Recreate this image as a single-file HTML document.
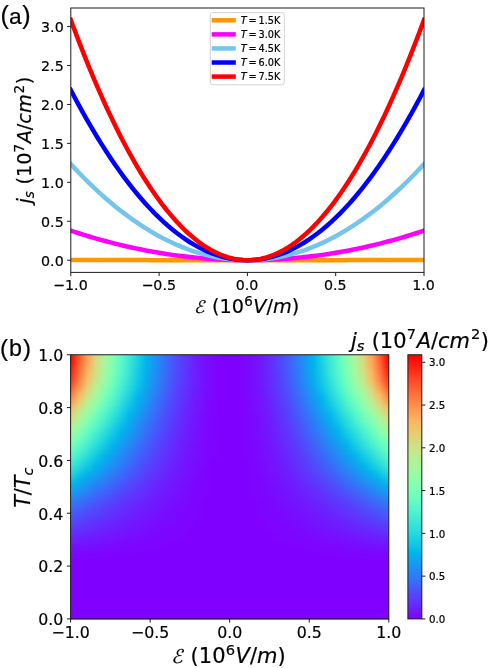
<!DOCTYPE html>
<html><head><meta charset="utf-8"><title>figure</title>
<style>
html,body{margin:0;padding:0;background:#fff;}
svg{display:block}
text{font-family:"DejaVu Sans","Liberation Sans",sans-serif;fill:#000;stroke:#000;stroke-width:0.2px}
.it{font-style:italic}
.pn{font-family:"Liberation Sans",sans-serif}
</style></head><body>
<svg width="491" height="668" viewBox="0 0 491 668">
<rect width="491" height="668" fill="#fff"/>

<defs>
<clipPath id="ca"><rect x="70.8" y="8" width="353.2" height="264.4"/></clipPath>
<linearGradient id="g0" gradientUnits="userSpaceOnUse" x1="229.7" x2="388.8" y1="0" y2="0" spreadMethod="reflect"><stop offset="0.000" stop-color="#8000ff"/><stop offset="0.053" stop-color="#8000ff"/><stop offset="0.105" stop-color="#7c06ff"/><stop offset="0.158" stop-color="#7610ff"/><stop offset="0.211" stop-color="#6e1cff"/><stop offset="0.263" stop-color="#622ffe"/><stop offset="0.316" stop-color="#5444fd"/><stop offset="0.368" stop-color="#425ffa"/><stop offset="0.421" stop-color="#3079f7"/><stop offset="0.474" stop-color="#1996f3"/><stop offset="0.526" stop-color="#00b5eb"/><stop offset="0.579" stop-color="#1dd1e2"/><stop offset="0.632" stop-color="#3dead5"/><stop offset="0.684" stop-color="#5efac6"/><stop offset="0.737" stop-color="#84ffb2"/><stop offset="0.789" stop-color="#aef498"/><stop offset="0.842" stop-color="#dcd67a"/><stop offset="0.895" stop-color="#ffa256"/><stop offset="0.947" stop-color="#ff592d"/><stop offset="1.000" stop-color="#ff0000"/></linearGradient>
<linearGradient id="g1" gradientUnits="userSpaceOnUse" x1="229.7" x2="388.8" y1="0" y2="0" spreadMethod="reflect"><stop offset="0.000" stop-color="#8000ff"/><stop offset="0.053" stop-color="#8000ff"/><stop offset="0.105" stop-color="#7c06ff"/><stop offset="0.158" stop-color="#7610ff"/><stop offset="0.211" stop-color="#6e1cff"/><stop offset="0.263" stop-color="#622ffe"/><stop offset="0.316" stop-color="#5444fd"/><stop offset="0.368" stop-color="#445cfb"/><stop offset="0.421" stop-color="#3079f7"/><stop offset="0.474" stop-color="#1996f3"/><stop offset="0.526" stop-color="#00b5eb"/><stop offset="0.579" stop-color="#1dd1e2"/><stop offset="0.632" stop-color="#3dead5"/><stop offset="0.684" stop-color="#5efac6"/><stop offset="0.737" stop-color="#84ffb2"/><stop offset="0.789" stop-color="#aef498"/><stop offset="0.842" stop-color="#dcd67a"/><stop offset="0.895" stop-color="#ffa256"/><stop offset="0.947" stop-color="#ff592d"/><stop offset="1.000" stop-color="#ff0000"/></linearGradient>
<linearGradient id="g2" gradientUnits="userSpaceOnUse" x1="229.7" x2="388.8" y1="0" y2="0" spreadMethod="reflect"><stop offset="0.000" stop-color="#8000ff"/><stop offset="0.053" stop-color="#8000ff"/><stop offset="0.105" stop-color="#7c06ff"/><stop offset="0.158" stop-color="#7610ff"/><stop offset="0.211" stop-color="#6e1cff"/><stop offset="0.263" stop-color="#622ffe"/><stop offset="0.316" stop-color="#5444fd"/><stop offset="0.368" stop-color="#445cfb"/><stop offset="0.421" stop-color="#3079f7"/><stop offset="0.474" stop-color="#1996f3"/><stop offset="0.526" stop-color="#00b5eb"/><stop offset="0.579" stop-color="#1dd1e2"/><stop offset="0.632" stop-color="#3dead5"/><stop offset="0.684" stop-color="#5efac6"/><stop offset="0.737" stop-color="#84ffb2"/><stop offset="0.789" stop-color="#aef498"/><stop offset="0.842" stop-color="#dbd87b"/><stop offset="0.895" stop-color="#ffa558"/><stop offset="0.947" stop-color="#ff5c2f"/><stop offset="1.000" stop-color="#ff0302"/></linearGradient>
<linearGradient id="g3" gradientUnits="userSpaceOnUse" x1="229.7" x2="388.8" y1="0" y2="0" spreadMethod="reflect"><stop offset="0.000" stop-color="#8000ff"/><stop offset="0.053" stop-color="#8000ff"/><stop offset="0.105" stop-color="#7c06ff"/><stop offset="0.158" stop-color="#7610ff"/><stop offset="0.211" stop-color="#6e1cff"/><stop offset="0.263" stop-color="#622ffe"/><stop offset="0.316" stop-color="#5444fd"/><stop offset="0.368" stop-color="#445cfb"/><stop offset="0.421" stop-color="#3079f7"/><stop offset="0.474" stop-color="#1996f3"/><stop offset="0.526" stop-color="#00b5eb"/><stop offset="0.579" stop-color="#1dd1e2"/><stop offset="0.632" stop-color="#3ae8d6"/><stop offset="0.684" stop-color="#5df9c7"/><stop offset="0.737" stop-color="#82ffb3"/><stop offset="0.789" stop-color="#acf59a"/><stop offset="0.842" stop-color="#dbd87b"/><stop offset="0.895" stop-color="#ffa558"/><stop offset="0.947" stop-color="#ff5f30"/><stop offset="1.000" stop-color="#ff0603"/></linearGradient>
<linearGradient id="g4" gradientUnits="userSpaceOnUse" x1="229.7" x2="388.8" y1="0" y2="0" spreadMethod="reflect"><stop offset="0.000" stop-color="#8000ff"/><stop offset="0.053" stop-color="#8000ff"/><stop offset="0.105" stop-color="#7c06ff"/><stop offset="0.158" stop-color="#7610ff"/><stop offset="0.211" stop-color="#6e1cff"/><stop offset="0.263" stop-color="#622ffe"/><stop offset="0.316" stop-color="#5444fd"/><stop offset="0.368" stop-color="#445cfb"/><stop offset="0.421" stop-color="#3079f7"/><stop offset="0.474" stop-color="#1996f3"/><stop offset="0.526" stop-color="#01b3ec"/><stop offset="0.579" stop-color="#1acfe3"/><stop offset="0.632" stop-color="#3ae8d6"/><stop offset="0.684" stop-color="#5df9c7"/><stop offset="0.737" stop-color="#82ffb3"/><stop offset="0.789" stop-color="#acf59a"/><stop offset="0.842" stop-color="#d9da7d"/><stop offset="0.895" stop-color="#ffa759"/><stop offset="0.947" stop-color="#ff6232"/><stop offset="1.000" stop-color="#ff0905"/></linearGradient>
<linearGradient id="g5" gradientUnits="userSpaceOnUse" x1="229.7" x2="388.8" y1="0" y2="0" spreadMethod="reflect"><stop offset="0.000" stop-color="#8000ff"/><stop offset="0.053" stop-color="#8000ff"/><stop offset="0.105" stop-color="#7c06ff"/><stop offset="0.158" stop-color="#7610ff"/><stop offset="0.211" stop-color="#6e1cff"/><stop offset="0.263" stop-color="#622ffe"/><stop offset="0.316" stop-color="#5444fd"/><stop offset="0.368" stop-color="#445cfb"/><stop offset="0.421" stop-color="#3079f7"/><stop offset="0.474" stop-color="#1996f3"/><stop offset="0.526" stop-color="#01b3ec"/><stop offset="0.579" stop-color="#1acfe3"/><stop offset="0.632" stop-color="#38e7d7"/><stop offset="0.684" stop-color="#5af8c8"/><stop offset="0.737" stop-color="#80ffb4"/><stop offset="0.789" stop-color="#abf69b"/><stop offset="0.842" stop-color="#d6db7e"/><stop offset="0.895" stop-color="#ffa95b"/><stop offset="0.947" stop-color="#ff6533"/><stop offset="1.000" stop-color="#ff0d06"/></linearGradient>
<linearGradient id="g6" gradientUnits="userSpaceOnUse" x1="229.7" x2="388.8" y1="0" y2="0" spreadMethod="reflect"><stop offset="0.000" stop-color="#8000ff"/><stop offset="0.053" stop-color="#8000ff"/><stop offset="0.105" stop-color="#7c06ff"/><stop offset="0.158" stop-color="#7610ff"/><stop offset="0.211" stop-color="#6e1cff"/><stop offset="0.263" stop-color="#622ffe"/><stop offset="0.316" stop-color="#5444fd"/><stop offset="0.368" stop-color="#445cfb"/><stop offset="0.421" stop-color="#3176f8"/><stop offset="0.474" stop-color="#1c93f3"/><stop offset="0.526" stop-color="#01b3ec"/><stop offset="0.579" stop-color="#18cde4"/><stop offset="0.632" stop-color="#38e7d7"/><stop offset="0.684" stop-color="#5af8c8"/><stop offset="0.737" stop-color="#80ffb4"/><stop offset="0.789" stop-color="#a8f79c"/><stop offset="0.842" stop-color="#d4dd80"/><stop offset="0.895" stop-color="#ffac5c"/><stop offset="0.947" stop-color="#ff6835"/><stop offset="1.000" stop-color="#ff1309"/></linearGradient>
<linearGradient id="g7" gradientUnits="userSpaceOnUse" x1="229.7" x2="388.8" y1="0" y2="0" spreadMethod="reflect"><stop offset="0.000" stop-color="#8000ff"/><stop offset="0.053" stop-color="#8000ff"/><stop offset="0.105" stop-color="#7c06ff"/><stop offset="0.158" stop-color="#7610ff"/><stop offset="0.211" stop-color="#6e1cff"/><stop offset="0.263" stop-color="#622ffe"/><stop offset="0.316" stop-color="#5444fd"/><stop offset="0.368" stop-color="#445cfb"/><stop offset="0.421" stop-color="#3176f8"/><stop offset="0.474" stop-color="#1c93f3"/><stop offset="0.526" stop-color="#04b0ed"/><stop offset="0.579" stop-color="#18cde4"/><stop offset="0.632" stop-color="#37e6d8"/><stop offset="0.684" stop-color="#58f8c9"/><stop offset="0.737" stop-color="#7effb5"/><stop offset="0.789" stop-color="#a6f89d"/><stop offset="0.842" stop-color="#d2de81"/><stop offset="0.895" stop-color="#ffae5e"/><stop offset="0.947" stop-color="#ff6b37"/><stop offset="1.000" stop-color="#ff160b"/></linearGradient>
<linearGradient id="g8" gradientUnits="userSpaceOnUse" x1="229.7" x2="388.8" y1="0" y2="0" spreadMethod="reflect"><stop offset="0.000" stop-color="#8000ff"/><stop offset="0.053" stop-color="#8000ff"/><stop offset="0.105" stop-color="#7c06ff"/><stop offset="0.158" stop-color="#7610ff"/><stop offset="0.211" stop-color="#6e1cff"/><stop offset="0.263" stop-color="#622ffe"/><stop offset="0.316" stop-color="#5641fd"/><stop offset="0.368" stop-color="#4659fb"/><stop offset="0.421" stop-color="#3176f8"/><stop offset="0.474" stop-color="#1c93f3"/><stop offset="0.526" stop-color="#04b0ed"/><stop offset="0.579" stop-color="#18cde4"/><stop offset="0.632" stop-color="#37e6d8"/><stop offset="0.684" stop-color="#58f8c9"/><stop offset="0.737" stop-color="#7dffb6"/><stop offset="0.789" stop-color="#a4f89f"/><stop offset="0.842" stop-color="#d0e082"/><stop offset="0.895" stop-color="#ffb360"/><stop offset="0.947" stop-color="#ff703a"/><stop offset="1.000" stop-color="#ff1c0e"/></linearGradient>
<linearGradient id="g9" gradientUnits="userSpaceOnUse" x1="229.7" x2="388.8" y1="0" y2="0" spreadMethod="reflect"><stop offset="0.000" stop-color="#8000ff"/><stop offset="0.053" stop-color="#8000ff"/><stop offset="0.105" stop-color="#7c06ff"/><stop offset="0.158" stop-color="#7610ff"/><stop offset="0.211" stop-color="#6e1cff"/><stop offset="0.263" stop-color="#622ffe"/><stop offset="0.316" stop-color="#5641fd"/><stop offset="0.368" stop-color="#4659fb"/><stop offset="0.421" stop-color="#3176f8"/><stop offset="0.474" stop-color="#1e91f3"/><stop offset="0.526" stop-color="#06aeed"/><stop offset="0.579" stop-color="#17cbe4"/><stop offset="0.632" stop-color="#34e4d9"/><stop offset="0.684" stop-color="#56f7ca"/><stop offset="0.737" stop-color="#7affb7"/><stop offset="0.789" stop-color="#a2f9a0"/><stop offset="0.842" stop-color="#cee184"/><stop offset="0.895" stop-color="#feb562"/><stop offset="0.947" stop-color="#ff733b"/><stop offset="1.000" stop-color="#ff1f10"/></linearGradient>
<linearGradient id="g10" gradientUnits="userSpaceOnUse" x1="229.7" x2="388.8" y1="0" y2="0" spreadMethod="reflect"><stop offset="0.000" stop-color="#8000ff"/><stop offset="0.053" stop-color="#8000ff"/><stop offset="0.105" stop-color="#7c06ff"/><stop offset="0.158" stop-color="#7610ff"/><stop offset="0.211" stop-color="#6e1cff"/><stop offset="0.263" stop-color="#642cfe"/><stop offset="0.316" stop-color="#5641fd"/><stop offset="0.368" stop-color="#4659fb"/><stop offset="0.421" stop-color="#3473f8"/><stop offset="0.474" stop-color="#1e91f3"/><stop offset="0.526" stop-color="#06aeed"/><stop offset="0.579" stop-color="#17cbe4"/><stop offset="0.632" stop-color="#34e4d9"/><stop offset="0.684" stop-color="#54f6cb"/><stop offset="0.737" stop-color="#78ffb8"/><stop offset="0.789" stop-color="#a0faa1"/><stop offset="0.842" stop-color="#cce385"/><stop offset="0.895" stop-color="#fcb763"/><stop offset="0.947" stop-color="#ff793e"/><stop offset="1.000" stop-color="#ff2613"/></linearGradient>
<linearGradient id="g11" gradientUnits="userSpaceOnUse" x1="229.7" x2="388.8" y1="0" y2="0" spreadMethod="reflect"><stop offset="0.000" stop-color="#8000ff"/><stop offset="0.053" stop-color="#8000ff"/><stop offset="0.105" stop-color="#7c06ff"/><stop offset="0.158" stop-color="#7610ff"/><stop offset="0.211" stop-color="#6e1cff"/><stop offset="0.263" stop-color="#642cfe"/><stop offset="0.316" stop-color="#5641fd"/><stop offset="0.368" stop-color="#4659fb"/><stop offset="0.421" stop-color="#3473f8"/><stop offset="0.474" stop-color="#1e91f3"/><stop offset="0.526" stop-color="#06aeed"/><stop offset="0.579" stop-color="#14cae5"/><stop offset="0.632" stop-color="#32e3da"/><stop offset="0.684" stop-color="#52f5cb"/><stop offset="0.737" stop-color="#76ffb9"/><stop offset="0.789" stop-color="#9efaa2"/><stop offset="0.842" stop-color="#cbe486"/><stop offset="0.895" stop-color="#f9bb66"/><stop offset="0.947" stop-color="#ff7b40"/><stop offset="1.000" stop-color="#ff2c16"/></linearGradient>
<linearGradient id="g12" gradientUnits="userSpaceOnUse" x1="229.7" x2="388.8" y1="0" y2="0" spreadMethod="reflect"><stop offset="0.000" stop-color="#8000ff"/><stop offset="0.053" stop-color="#8000ff"/><stop offset="0.105" stop-color="#7c06ff"/><stop offset="0.158" stop-color="#7610ff"/><stop offset="0.211" stop-color="#6e1cff"/><stop offset="0.263" stop-color="#642cfe"/><stop offset="0.316" stop-color="#5641fd"/><stop offset="0.368" stop-color="#4659fb"/><stop offset="0.421" stop-color="#3473f8"/><stop offset="0.474" stop-color="#208ef4"/><stop offset="0.526" stop-color="#08acee"/><stop offset="0.579" stop-color="#12c8e6"/><stop offset="0.632" stop-color="#30e1da"/><stop offset="0.684" stop-color="#50f4cc"/><stop offset="0.737" stop-color="#74feba"/><stop offset="0.789" stop-color="#9cfba4"/><stop offset="0.842" stop-color="#c6e789"/><stop offset="0.895" stop-color="#f6be68"/><stop offset="0.947" stop-color="#ff8143"/><stop offset="1.000" stop-color="#ff3219"/></linearGradient>
<linearGradient id="g13" gradientUnits="userSpaceOnUse" x1="229.7" x2="388.8" y1="0" y2="0" spreadMethod="reflect"><stop offset="0.000" stop-color="#8000ff"/><stop offset="0.053" stop-color="#8000ff"/><stop offset="0.105" stop-color="#7c06ff"/><stop offset="0.158" stop-color="#7610ff"/><stop offset="0.211" stop-color="#6e1cff"/><stop offset="0.263" stop-color="#642cfe"/><stop offset="0.316" stop-color="#5641fd"/><stop offset="0.368" stop-color="#4856fb"/><stop offset="0.421" stop-color="#3670f8"/><stop offset="0.474" stop-color="#208ef4"/><stop offset="0.526" stop-color="#09a9ee"/><stop offset="0.579" stop-color="#12c8e6"/><stop offset="0.632" stop-color="#2fe0db"/><stop offset="0.684" stop-color="#4ef3cd"/><stop offset="0.737" stop-color="#72febb"/><stop offset="0.789" stop-color="#9bfba5"/><stop offset="0.842" stop-color="#c4e88a"/><stop offset="0.895" stop-color="#f2c26b"/><stop offset="0.947" stop-color="#ff8646"/><stop offset="1.000" stop-color="#ff381c"/></linearGradient>
<linearGradient id="g14" gradientUnits="userSpaceOnUse" x1="229.7" x2="388.8" y1="0" y2="0" spreadMethod="reflect"><stop offset="0.000" stop-color="#8000ff"/><stop offset="0.053" stop-color="#8000ff"/><stop offset="0.105" stop-color="#7c06ff"/><stop offset="0.158" stop-color="#7610ff"/><stop offset="0.211" stop-color="#6e1cff"/><stop offset="0.263" stop-color="#642cfe"/><stop offset="0.316" stop-color="#583efd"/><stop offset="0.368" stop-color="#4856fb"/><stop offset="0.421" stop-color="#3670f8"/><stop offset="0.474" stop-color="#218cf4"/><stop offset="0.526" stop-color="#09a9ee"/><stop offset="0.579" stop-color="#10c6e6"/><stop offset="0.632" stop-color="#2ddedc"/><stop offset="0.684" stop-color="#4df3ce"/><stop offset="0.737" stop-color="#70febc"/><stop offset="0.789" stop-color="#96fca7"/><stop offset="0.842" stop-color="#c0eb8d"/><stop offset="0.895" stop-color="#eec66d"/><stop offset="0.947" stop-color="#ff8e4a"/><stop offset="1.000" stop-color="#ff4121"/></linearGradient>
<linearGradient id="g15" gradientUnits="userSpaceOnUse" x1="229.7" x2="388.8" y1="0" y2="0" spreadMethod="reflect"><stop offset="0.000" stop-color="#8000ff"/><stop offset="0.053" stop-color="#8000ff"/><stop offset="0.105" stop-color="#7c06ff"/><stop offset="0.158" stop-color="#7610ff"/><stop offset="0.211" stop-color="#6e1cff"/><stop offset="0.263" stop-color="#642cfe"/><stop offset="0.316" stop-color="#583efd"/><stop offset="0.368" stop-color="#4856fb"/><stop offset="0.421" stop-color="#386df9"/><stop offset="0.474" stop-color="#218cf4"/><stop offset="0.526" stop-color="#0ca7ef"/><stop offset="0.579" stop-color="#0fc4e7"/><stop offset="0.632" stop-color="#2adddd"/><stop offset="0.684" stop-color="#4af2cf"/><stop offset="0.737" stop-color="#6dfdbf"/><stop offset="0.789" stop-color="#92fda9"/><stop offset="0.842" stop-color="#bced8f"/><stop offset="0.895" stop-color="#e8cb72"/><stop offset="0.947" stop-color="#ff934d"/><stop offset="1.000" stop-color="#ff4a26"/></linearGradient>
<linearGradient id="g16" gradientUnits="userSpaceOnUse" x1="229.7" x2="388.8" y1="0" y2="0" spreadMethod="reflect"><stop offset="0.000" stop-color="#8000ff"/><stop offset="0.053" stop-color="#8000ff"/><stop offset="0.105" stop-color="#7c06ff"/><stop offset="0.158" stop-color="#7610ff"/><stop offset="0.211" stop-color="#7019ff"/><stop offset="0.263" stop-color="#642cfe"/><stop offset="0.316" stop-color="#583efd"/><stop offset="0.368" stop-color="#4a53fb"/><stop offset="0.421" stop-color="#386df9"/><stop offset="0.474" stop-color="#2489f5"/><stop offset="0.526" stop-color="#0ea5ef"/><stop offset="0.579" stop-color="#0dc2e8"/><stop offset="0.632" stop-color="#28dbde"/><stop offset="0.684" stop-color="#46efd1"/><stop offset="0.737" stop-color="#6afdc0"/><stop offset="0.789" stop-color="#8efeac"/><stop offset="0.842" stop-color="#b9ef92"/><stop offset="0.895" stop-color="#e4cf74"/><stop offset="0.947" stop-color="#ff9b52"/><stop offset="1.000" stop-color="#ff532a"/></linearGradient>
<linearGradient id="g17" gradientUnits="userSpaceOnUse" x1="229.7" x2="388.8" y1="0" y2="0" spreadMethod="reflect"><stop offset="0.000" stop-color="#8000ff"/><stop offset="0.053" stop-color="#8000ff"/><stop offset="0.105" stop-color="#7c06ff"/><stop offset="0.158" stop-color="#780dff"/><stop offset="0.211" stop-color="#7019ff"/><stop offset="0.263" stop-color="#6629fe"/><stop offset="0.316" stop-color="#5a3bfd"/><stop offset="0.368" stop-color="#4a53fb"/><stop offset="0.421" stop-color="#396bf9"/><stop offset="0.474" stop-color="#2686f5"/><stop offset="0.526" stop-color="#10a2f0"/><stop offset="0.579" stop-color="#0ac0e8"/><stop offset="0.632" stop-color="#27dade"/><stop offset="0.684" stop-color="#44eed2"/><stop offset="0.737" stop-color="#66fcc2"/><stop offset="0.789" stop-color="#8bfeae"/><stop offset="0.842" stop-color="#b2f396"/><stop offset="0.895" stop-color="#ded579"/><stop offset="0.947" stop-color="#ffa256"/><stop offset="1.000" stop-color="#ff5f30"/></linearGradient>
<linearGradient id="g18" gradientUnits="userSpaceOnUse" x1="229.7" x2="388.8" y1="0" y2="0" spreadMethod="reflect"><stop offset="0.000" stop-color="#8000ff"/><stop offset="0.053" stop-color="#8000ff"/><stop offset="0.105" stop-color="#7c06ff"/><stop offset="0.158" stop-color="#780dff"/><stop offset="0.211" stop-color="#7019ff"/><stop offset="0.263" stop-color="#6629fe"/><stop offset="0.316" stop-color="#5a3bfd"/><stop offset="0.368" stop-color="#4c50fc"/><stop offset="0.421" stop-color="#396bf9"/><stop offset="0.474" stop-color="#2884f6"/><stop offset="0.526" stop-color="#11a0f1"/><stop offset="0.579" stop-color="#08bee9"/><stop offset="0.632" stop-color="#22d6e0"/><stop offset="0.684" stop-color="#40ecd4"/><stop offset="0.737" stop-color="#62fbc4"/><stop offset="0.789" stop-color="#86ffb0"/><stop offset="0.842" stop-color="#aef498"/><stop offset="0.895" stop-color="#d9da7d"/><stop offset="0.947" stop-color="#ffa95b"/><stop offset="1.000" stop-color="#ff6835"/></linearGradient>
<linearGradient id="g19" gradientUnits="userSpaceOnUse" x1="229.7" x2="388.8" y1="0" y2="0" spreadMethod="reflect"><stop offset="0.000" stop-color="#8000ff"/><stop offset="0.053" stop-color="#8000ff"/><stop offset="0.105" stop-color="#7c06ff"/><stop offset="0.158" stop-color="#780dff"/><stop offset="0.211" stop-color="#7019ff"/><stop offset="0.263" stop-color="#6629fe"/><stop offset="0.316" stop-color="#5a3bfd"/><stop offset="0.368" stop-color="#4c50fc"/><stop offset="0.421" stop-color="#3c68f9"/><stop offset="0.474" stop-color="#2884f6"/><stop offset="0.526" stop-color="#149df1"/><stop offset="0.579" stop-color="#07bbea"/><stop offset="0.632" stop-color="#20d5e1"/><stop offset="0.684" stop-color="#3febd5"/><stop offset="0.737" stop-color="#5efac6"/><stop offset="0.789" stop-color="#82ffb3"/><stop offset="0.842" stop-color="#a8f79c"/><stop offset="0.895" stop-color="#d4dd80"/><stop offset="0.947" stop-color="#ffb05f"/><stop offset="1.000" stop-color="#ff733b"/></linearGradient>
<linearGradient id="g20" gradientUnits="userSpaceOnUse" x1="229.7" x2="388.8" y1="0" y2="0" spreadMethod="reflect"><stop offset="0.000" stop-color="#8000ff"/><stop offset="0.053" stop-color="#8000ff"/><stop offset="0.105" stop-color="#7c06ff"/><stop offset="0.158" stop-color="#780dff"/><stop offset="0.211" stop-color="#7019ff"/><stop offset="0.263" stop-color="#6629fe"/><stop offset="0.316" stop-color="#5c38fd"/><stop offset="0.368" stop-color="#4e4dfc"/><stop offset="0.421" stop-color="#3c68f9"/><stop offset="0.474" stop-color="#2981f6"/><stop offset="0.526" stop-color="#149df1"/><stop offset="0.579" stop-color="#02b7eb"/><stop offset="0.632" stop-color="#1fd3e1"/><stop offset="0.684" stop-color="#3ae8d6"/><stop offset="0.737" stop-color="#5af8c8"/><stop offset="0.789" stop-color="#7effb5"/><stop offset="0.842" stop-color="#a4f89f"/><stop offset="0.895" stop-color="#cee184"/><stop offset="0.947" stop-color="#fbb965"/><stop offset="1.000" stop-color="#ff7b40"/></linearGradient>
<linearGradient id="g21" gradientUnits="userSpaceOnUse" x1="229.7" x2="388.8" y1="0" y2="0" spreadMethod="reflect"><stop offset="0.000" stop-color="#8000ff"/><stop offset="0.053" stop-color="#8000ff"/><stop offset="0.105" stop-color="#7c06ff"/><stop offset="0.158" stop-color="#780dff"/><stop offset="0.211" stop-color="#7019ff"/><stop offset="0.263" stop-color="#6826fe"/><stop offset="0.316" stop-color="#5c38fd"/><stop offset="0.368" stop-color="#4e4dfc"/><stop offset="0.421" stop-color="#3e65fa"/><stop offset="0.474" stop-color="#2c7ef7"/><stop offset="0.526" stop-color="#169bf2"/><stop offset="0.579" stop-color="#00b5eb"/><stop offset="0.632" stop-color="#1acfe3"/><stop offset="0.684" stop-color="#38e7d7"/><stop offset="0.737" stop-color="#56f7ca"/><stop offset="0.789" stop-color="#7affb7"/><stop offset="0.842" stop-color="#9efaa2"/><stop offset="0.895" stop-color="#c8e688"/><stop offset="0.947" stop-color="#f4c069"/><stop offset="1.000" stop-color="#ff8646"/></linearGradient>
<linearGradient id="g22" gradientUnits="userSpaceOnUse" x1="229.7" x2="388.8" y1="0" y2="0" spreadMethod="reflect"><stop offset="0.000" stop-color="#8000ff"/><stop offset="0.053" stop-color="#8000ff"/><stop offset="0.105" stop-color="#7c06ff"/><stop offset="0.158" stop-color="#780dff"/><stop offset="0.211" stop-color="#7019ff"/><stop offset="0.263" stop-color="#6826fe"/><stop offset="0.316" stop-color="#5c38fd"/><stop offset="0.368" stop-color="#4e4dfc"/><stop offset="0.421" stop-color="#4062fa"/><stop offset="0.474" stop-color="#2e7bf7"/><stop offset="0.526" stop-color="#1898f2"/><stop offset="0.579" stop-color="#01b3ec"/><stop offset="0.632" stop-color="#18cde4"/><stop offset="0.684" stop-color="#34e4d9"/><stop offset="0.737" stop-color="#54f6cb"/><stop offset="0.789" stop-color="#74feba"/><stop offset="0.842" stop-color="#9bfba5"/><stop offset="0.895" stop-color="#c2ea8c"/><stop offset="0.947" stop-color="#eec66d"/><stop offset="1.000" stop-color="#ff914c"/></linearGradient>
<linearGradient id="g23" gradientUnits="userSpaceOnUse" x1="229.7" x2="388.8" y1="0" y2="0" spreadMethod="reflect"><stop offset="0.000" stop-color="#8000ff"/><stop offset="0.053" stop-color="#8000ff"/><stop offset="0.105" stop-color="#7e03ff"/><stop offset="0.158" stop-color="#780dff"/><stop offset="0.211" stop-color="#7216ff"/><stop offset="0.263" stop-color="#6826fe"/><stop offset="0.316" stop-color="#5c38fd"/><stop offset="0.368" stop-color="#504afc"/><stop offset="0.421" stop-color="#4062fa"/><stop offset="0.474" stop-color="#2e7bf7"/><stop offset="0.526" stop-color="#1996f3"/><stop offset="0.579" stop-color="#04b0ed"/><stop offset="0.632" stop-color="#17cbe4"/><stop offset="0.684" stop-color="#30e1da"/><stop offset="0.737" stop-color="#50f4cc"/><stop offset="0.789" stop-color="#70febc"/><stop offset="0.842" stop-color="#96fca7"/><stop offset="0.895" stop-color="#bced8f"/><stop offset="0.947" stop-color="#e8cb72"/><stop offset="1.000" stop-color="#ff9850"/></linearGradient>
<linearGradient id="g24" gradientUnits="userSpaceOnUse" x1="229.7" x2="388.8" y1="0" y2="0" spreadMethod="reflect"><stop offset="0.000" stop-color="#8000ff"/><stop offset="0.053" stop-color="#8000ff"/><stop offset="0.105" stop-color="#7e03ff"/><stop offset="0.158" stop-color="#780dff"/><stop offset="0.211" stop-color="#7216ff"/><stop offset="0.263" stop-color="#6826fe"/><stop offset="0.316" stop-color="#5e35fe"/><stop offset="0.368" stop-color="#504afc"/><stop offset="0.421" stop-color="#425ffa"/><stop offset="0.474" stop-color="#3079f7"/><stop offset="0.526" stop-color="#1c93f3"/><stop offset="0.579" stop-color="#06aeed"/><stop offset="0.632" stop-color="#12c8e6"/><stop offset="0.684" stop-color="#2fe0db"/><stop offset="0.737" stop-color="#4df3ce"/><stop offset="0.789" stop-color="#6dfdbf"/><stop offset="0.842" stop-color="#90feab"/><stop offset="0.895" stop-color="#b6f193"/><stop offset="0.947" stop-color="#e0d377"/><stop offset="1.000" stop-color="#ffa256"/></linearGradient>
<linearGradient id="g25" gradientUnits="userSpaceOnUse" x1="229.7" x2="388.8" y1="0" y2="0" spreadMethod="reflect"><stop offset="0.000" stop-color="#8000ff"/><stop offset="0.053" stop-color="#8000ff"/><stop offset="0.105" stop-color="#7e03ff"/><stop offset="0.158" stop-color="#780dff"/><stop offset="0.211" stop-color="#7216ff"/><stop offset="0.263" stop-color="#6826fe"/><stop offset="0.316" stop-color="#5e35fe"/><stop offset="0.368" stop-color="#5247fc"/><stop offset="0.421" stop-color="#425ffa"/><stop offset="0.474" stop-color="#3176f8"/><stop offset="0.526" stop-color="#1e91f3"/><stop offset="0.579" stop-color="#08acee"/><stop offset="0.632" stop-color="#10c6e6"/><stop offset="0.684" stop-color="#2adddd"/><stop offset="0.737" stop-color="#48f1d0"/><stop offset="0.789" stop-color="#68fcc1"/><stop offset="0.842" stop-color="#8bfeae"/><stop offset="0.895" stop-color="#b0f397"/><stop offset="0.947" stop-color="#dbd87b"/><stop offset="1.000" stop-color="#ffac5c"/></linearGradient>
<linearGradient id="g26" gradientUnits="userSpaceOnUse" x1="229.7" x2="388.8" y1="0" y2="0" spreadMethod="reflect"><stop offset="0.000" stop-color="#8000ff"/><stop offset="0.053" stop-color="#8000ff"/><stop offset="0.105" stop-color="#7e03ff"/><stop offset="0.158" stop-color="#780dff"/><stop offset="0.211" stop-color="#7216ff"/><stop offset="0.263" stop-color="#6a22fe"/><stop offset="0.316" stop-color="#5e35fe"/><stop offset="0.368" stop-color="#5247fc"/><stop offset="0.421" stop-color="#445cfb"/><stop offset="0.474" stop-color="#3473f8"/><stop offset="0.526" stop-color="#208ef4"/><stop offset="0.579" stop-color="#09a9ee"/><stop offset="0.632" stop-color="#0dc2e8"/><stop offset="0.684" stop-color="#27dade"/><stop offset="0.737" stop-color="#44eed2"/><stop offset="0.789" stop-color="#62fbc4"/><stop offset="0.842" stop-color="#86ffb0"/><stop offset="0.895" stop-color="#abf69b"/><stop offset="0.947" stop-color="#d2de81"/><stop offset="1.000" stop-color="#feb562"/></linearGradient>
<linearGradient id="g27" gradientUnits="userSpaceOnUse" x1="229.7" x2="388.8" y1="0" y2="0" spreadMethod="reflect"><stop offset="0.000" stop-color="#8000ff"/><stop offset="0.053" stop-color="#8000ff"/><stop offset="0.105" stop-color="#7e03ff"/><stop offset="0.158" stop-color="#780dff"/><stop offset="0.211" stop-color="#7216ff"/><stop offset="0.263" stop-color="#6a22fe"/><stop offset="0.316" stop-color="#6032fe"/><stop offset="0.368" stop-color="#5444fd"/><stop offset="0.421" stop-color="#4659fb"/><stop offset="0.474" stop-color="#3473f8"/><stop offset="0.526" stop-color="#218cf4"/><stop offset="0.579" stop-color="#0ea5ef"/><stop offset="0.632" stop-color="#0ac0e8"/><stop offset="0.684" stop-color="#24d8df"/><stop offset="0.737" stop-color="#40ecd4"/><stop offset="0.789" stop-color="#5efac6"/><stop offset="0.842" stop-color="#80ffb4"/><stop offset="0.895" stop-color="#a4f89f"/><stop offset="0.947" stop-color="#cce385"/><stop offset="1.000" stop-color="#f6be68"/></linearGradient>
<linearGradient id="g28" gradientUnits="userSpaceOnUse" x1="229.7" x2="388.8" y1="0" y2="0" spreadMethod="reflect"><stop offset="0.000" stop-color="#8000ff"/><stop offset="0.053" stop-color="#8000ff"/><stop offset="0.105" stop-color="#7e03ff"/><stop offset="0.158" stop-color="#780dff"/><stop offset="0.211" stop-color="#7216ff"/><stop offset="0.263" stop-color="#6a22fe"/><stop offset="0.316" stop-color="#6032fe"/><stop offset="0.368" stop-color="#5444fd"/><stop offset="0.421" stop-color="#4659fb"/><stop offset="0.474" stop-color="#3670f8"/><stop offset="0.526" stop-color="#2489f5"/><stop offset="0.579" stop-color="#10a2f0"/><stop offset="0.632" stop-color="#07bbea"/><stop offset="0.684" stop-color="#20d5e1"/><stop offset="0.737" stop-color="#3dead5"/><stop offset="0.789" stop-color="#5af8c8"/><stop offset="0.842" stop-color="#7affb7"/><stop offset="0.895" stop-color="#9efaa2"/><stop offset="0.947" stop-color="#c4e88a"/><stop offset="1.000" stop-color="#eec66d"/></linearGradient>
<linearGradient id="g29" gradientUnits="userSpaceOnUse" x1="229.7" x2="388.8" y1="0" y2="0" spreadMethod="reflect"><stop offset="0.000" stop-color="#8000ff"/><stop offset="0.053" stop-color="#8000ff"/><stop offset="0.105" stop-color="#7e03ff"/><stop offset="0.158" stop-color="#7a09ff"/><stop offset="0.211" stop-color="#7216ff"/><stop offset="0.263" stop-color="#6a22fe"/><stop offset="0.316" stop-color="#622ffe"/><stop offset="0.368" stop-color="#5641fd"/><stop offset="0.421" stop-color="#4856fb"/><stop offset="0.474" stop-color="#386df9"/><stop offset="0.526" stop-color="#2686f5"/><stop offset="0.579" stop-color="#11a0f1"/><stop offset="0.632" stop-color="#04b9ea"/><stop offset="0.684" stop-color="#1dd1e2"/><stop offset="0.737" stop-color="#38e7d7"/><stop offset="0.789" stop-color="#54f6cb"/><stop offset="0.842" stop-color="#74feba"/><stop offset="0.895" stop-color="#99fca6"/><stop offset="0.947" stop-color="#beec8e"/><stop offset="1.000" stop-color="#e6cd73"/></linearGradient>
<linearGradient id="g30" gradientUnits="userSpaceOnUse" x1="229.7" x2="388.8" y1="0" y2="0" spreadMethod="reflect"><stop offset="0.000" stop-color="#8000ff"/><stop offset="0.053" stop-color="#8000ff"/><stop offset="0.105" stop-color="#7e03ff"/><stop offset="0.158" stop-color="#7a09ff"/><stop offset="0.211" stop-color="#7413ff"/><stop offset="0.263" stop-color="#6c1fff"/><stop offset="0.316" stop-color="#622ffe"/><stop offset="0.368" stop-color="#5641fd"/><stop offset="0.421" stop-color="#4856fb"/><stop offset="0.474" stop-color="#396bf9"/><stop offset="0.526" stop-color="#2884f6"/><stop offset="0.579" stop-color="#149df1"/><stop offset="0.632" stop-color="#02b7eb"/><stop offset="0.684" stop-color="#1acfe3"/><stop offset="0.737" stop-color="#34e4d9"/><stop offset="0.789" stop-color="#50f4cc"/><stop offset="0.842" stop-color="#70febc"/><stop offset="0.895" stop-color="#92fda9"/><stop offset="0.947" stop-color="#b9ef92"/><stop offset="1.000" stop-color="#e0d377"/></linearGradient>
<linearGradient id="g31" gradientUnits="userSpaceOnUse" x1="229.7" x2="388.8" y1="0" y2="0" spreadMethod="reflect"><stop offset="0.000" stop-color="#8000ff"/><stop offset="0.053" stop-color="#8000ff"/><stop offset="0.105" stop-color="#7e03ff"/><stop offset="0.158" stop-color="#7a09ff"/><stop offset="0.211" stop-color="#7413ff"/><stop offset="0.263" stop-color="#6c1fff"/><stop offset="0.316" stop-color="#622ffe"/><stop offset="0.368" stop-color="#583efd"/><stop offset="0.421" stop-color="#4a53fb"/><stop offset="0.474" stop-color="#396bf9"/><stop offset="0.526" stop-color="#2981f6"/><stop offset="0.579" stop-color="#169bf2"/><stop offset="0.632" stop-color="#01b3ec"/><stop offset="0.684" stop-color="#17cbe4"/><stop offset="0.737" stop-color="#30e1da"/><stop offset="0.789" stop-color="#4df3ce"/><stop offset="0.842" stop-color="#6afdc0"/><stop offset="0.895" stop-color="#8cfead"/><stop offset="0.947" stop-color="#b0f397"/><stop offset="1.000" stop-color="#d9da7d"/></linearGradient>
<linearGradient id="g32" gradientUnits="userSpaceOnUse" x1="229.7" x2="388.8" y1="0" y2="0" spreadMethod="reflect"><stop offset="0.000" stop-color="#8000ff"/><stop offset="0.053" stop-color="#8000ff"/><stop offset="0.105" stop-color="#7e03ff"/><stop offset="0.158" stop-color="#7a09ff"/><stop offset="0.211" stop-color="#7413ff"/><stop offset="0.263" stop-color="#6c1fff"/><stop offset="0.316" stop-color="#642cfe"/><stop offset="0.368" stop-color="#583efd"/><stop offset="0.421" stop-color="#4c50fc"/><stop offset="0.474" stop-color="#3c68f9"/><stop offset="0.526" stop-color="#2c7ef7"/><stop offset="0.579" stop-color="#1996f3"/><stop offset="0.632" stop-color="#04b0ed"/><stop offset="0.684" stop-color="#12c8e6"/><stop offset="0.737" stop-color="#2ddedc"/><stop offset="0.789" stop-color="#48f1d0"/><stop offset="0.842" stop-color="#66fcc2"/><stop offset="0.895" stop-color="#86ffb0"/><stop offset="0.947" stop-color="#abf69b"/><stop offset="1.000" stop-color="#d0e082"/></linearGradient>
<linearGradient id="g33" gradientUnits="userSpaceOnUse" x1="229.7" x2="388.8" y1="0" y2="0" spreadMethod="reflect"><stop offset="0.000" stop-color="#8000ff"/><stop offset="0.053" stop-color="#8000ff"/><stop offset="0.105" stop-color="#7e03ff"/><stop offset="0.158" stop-color="#7a09ff"/><stop offset="0.211" stop-color="#7413ff"/><stop offset="0.263" stop-color="#6c1fff"/><stop offset="0.316" stop-color="#642cfe"/><stop offset="0.368" stop-color="#583efd"/><stop offset="0.421" stop-color="#4c50fc"/><stop offset="0.474" stop-color="#3e65fa"/><stop offset="0.526" stop-color="#2e7bf7"/><stop offset="0.579" stop-color="#1c93f3"/><stop offset="0.632" stop-color="#06aeed"/><stop offset="0.684" stop-color="#10c6e6"/><stop offset="0.737" stop-color="#28dbde"/><stop offset="0.789" stop-color="#44eed2"/><stop offset="0.842" stop-color="#62fbc4"/><stop offset="0.895" stop-color="#82ffb3"/><stop offset="0.947" stop-color="#a4f89f"/><stop offset="1.000" stop-color="#cbe486"/></linearGradient>
<linearGradient id="g34" gradientUnits="userSpaceOnUse" x1="229.7" x2="388.8" y1="0" y2="0" spreadMethod="reflect"><stop offset="0.000" stop-color="#8000ff"/><stop offset="0.053" stop-color="#8000ff"/><stop offset="0.105" stop-color="#7e03ff"/><stop offset="0.158" stop-color="#7a09ff"/><stop offset="0.211" stop-color="#7413ff"/><stop offset="0.263" stop-color="#6e1cff"/><stop offset="0.316" stop-color="#642cfe"/><stop offset="0.368" stop-color="#5a3bfd"/><stop offset="0.421" stop-color="#4e4dfc"/><stop offset="0.474" stop-color="#4062fa"/><stop offset="0.526" stop-color="#3079f7"/><stop offset="0.579" stop-color="#1e91f3"/><stop offset="0.632" stop-color="#09a9ee"/><stop offset="0.684" stop-color="#0dc2e8"/><stop offset="0.737" stop-color="#24d8df"/><stop offset="0.789" stop-color="#40ecd4"/><stop offset="0.842" stop-color="#5df9c7"/><stop offset="0.895" stop-color="#7dffb6"/><stop offset="0.947" stop-color="#9efaa2"/><stop offset="1.000" stop-color="#c2ea8c"/></linearGradient>
<linearGradient id="g35" gradientUnits="userSpaceOnUse" x1="229.7" x2="388.8" y1="0" y2="0" spreadMethod="reflect"><stop offset="0.000" stop-color="#8000ff"/><stop offset="0.053" stop-color="#8000ff"/><stop offset="0.105" stop-color="#7e03ff"/><stop offset="0.158" stop-color="#7a09ff"/><stop offset="0.211" stop-color="#7413ff"/><stop offset="0.263" stop-color="#6e1cff"/><stop offset="0.316" stop-color="#642cfe"/><stop offset="0.368" stop-color="#5a3bfd"/><stop offset="0.421" stop-color="#4e4dfc"/><stop offset="0.474" stop-color="#4062fa"/><stop offset="0.526" stop-color="#3176f8"/><stop offset="0.579" stop-color="#208ef4"/><stop offset="0.632" stop-color="#0ca7ef"/><stop offset="0.684" stop-color="#0ac0e8"/><stop offset="0.737" stop-color="#22d6e0"/><stop offset="0.789" stop-color="#3dead5"/><stop offset="0.842" stop-color="#58f8c9"/><stop offset="0.895" stop-color="#76ffb9"/><stop offset="0.947" stop-color="#99fca6"/><stop offset="1.000" stop-color="#bced8f"/></linearGradient>
<linearGradient id="g36" gradientUnits="userSpaceOnUse" x1="229.7" x2="388.8" y1="0" y2="0" spreadMethod="reflect"><stop offset="0.000" stop-color="#8000ff"/><stop offset="0.053" stop-color="#8000ff"/><stop offset="0.105" stop-color="#7e03ff"/><stop offset="0.158" stop-color="#7a09ff"/><stop offset="0.211" stop-color="#7413ff"/><stop offset="0.263" stop-color="#6e1cff"/><stop offset="0.316" stop-color="#6629fe"/><stop offset="0.368" stop-color="#5c38fd"/><stop offset="0.421" stop-color="#504afc"/><stop offset="0.474" stop-color="#425ffa"/><stop offset="0.526" stop-color="#3176f8"/><stop offset="0.579" stop-color="#218cf4"/><stop offset="0.632" stop-color="#0ea5ef"/><stop offset="0.684" stop-color="#07bbea"/><stop offset="0.737" stop-color="#1fd3e1"/><stop offset="0.789" stop-color="#38e7d7"/><stop offset="0.842" stop-color="#52f5cb"/><stop offset="0.895" stop-color="#70febc"/><stop offset="0.947" stop-color="#92fda9"/><stop offset="1.000" stop-color="#b4f295"/></linearGradient>
<linearGradient id="g37" gradientUnits="userSpaceOnUse" x1="229.7" x2="388.8" y1="0" y2="0" spreadMethod="reflect"><stop offset="0.000" stop-color="#8000ff"/><stop offset="0.053" stop-color="#8000ff"/><stop offset="0.105" stop-color="#7e03ff"/><stop offset="0.158" stop-color="#7a09ff"/><stop offset="0.211" stop-color="#7610ff"/><stop offset="0.263" stop-color="#6e1cff"/><stop offset="0.316" stop-color="#6629fe"/><stop offset="0.368" stop-color="#5c38fd"/><stop offset="0.421" stop-color="#504afc"/><stop offset="0.474" stop-color="#445cfb"/><stop offset="0.526" stop-color="#3473f8"/><stop offset="0.579" stop-color="#2489f5"/><stop offset="0.632" stop-color="#11a0f1"/><stop offset="0.684" stop-color="#04b9ea"/><stop offset="0.737" stop-color="#1acfe3"/><stop offset="0.789" stop-color="#32e3da"/><stop offset="0.842" stop-color="#4ef3cd"/><stop offset="0.895" stop-color="#6dfdbf"/><stop offset="0.947" stop-color="#8cfead"/><stop offset="1.000" stop-color="#aef498"/></linearGradient>
<linearGradient id="g38" gradientUnits="userSpaceOnUse" x1="229.7" x2="388.8" y1="0" y2="0" spreadMethod="reflect"><stop offset="0.000" stop-color="#8000ff"/><stop offset="0.053" stop-color="#8000ff"/><stop offset="0.105" stop-color="#7e03ff"/><stop offset="0.158" stop-color="#7a09ff"/><stop offset="0.211" stop-color="#7610ff"/><stop offset="0.263" stop-color="#6e1cff"/><stop offset="0.316" stop-color="#6629fe"/><stop offset="0.368" stop-color="#5e35fe"/><stop offset="0.421" stop-color="#5247fc"/><stop offset="0.474" stop-color="#445cfb"/><stop offset="0.526" stop-color="#3670f8"/><stop offset="0.579" stop-color="#2686f5"/><stop offset="0.632" stop-color="#149df1"/><stop offset="0.684" stop-color="#00b5eb"/><stop offset="0.737" stop-color="#17cbe4"/><stop offset="0.789" stop-color="#2fe0db"/><stop offset="0.842" stop-color="#4af2cf"/><stop offset="0.895" stop-color="#66fcc2"/><stop offset="0.947" stop-color="#86ffb0"/><stop offset="1.000" stop-color="#a6f89d"/></linearGradient>
<linearGradient id="g39" gradientUnits="userSpaceOnUse" x1="229.7" x2="388.8" y1="0" y2="0" spreadMethod="reflect"><stop offset="0.000" stop-color="#8000ff"/><stop offset="0.053" stop-color="#8000ff"/><stop offset="0.105" stop-color="#7e03ff"/><stop offset="0.158" stop-color="#7a09ff"/><stop offset="0.211" stop-color="#7610ff"/><stop offset="0.263" stop-color="#7019ff"/><stop offset="0.316" stop-color="#6826fe"/><stop offset="0.368" stop-color="#5e35fe"/><stop offset="0.421" stop-color="#5247fc"/><stop offset="0.474" stop-color="#4659fb"/><stop offset="0.526" stop-color="#386df9"/><stop offset="0.579" stop-color="#2884f6"/><stop offset="0.632" stop-color="#169bf2"/><stop offset="0.684" stop-color="#01b3ec"/><stop offset="0.737" stop-color="#14cae5"/><stop offset="0.789" stop-color="#2adddd"/><stop offset="0.842" stop-color="#44eed2"/><stop offset="0.895" stop-color="#60fac5"/><stop offset="0.947" stop-color="#80ffb4"/><stop offset="1.000" stop-color="#a0faa1"/></linearGradient>
<linearGradient id="g40" gradientUnits="userSpaceOnUse" x1="229.7" x2="388.8" y1="0" y2="0" spreadMethod="reflect"><stop offset="0.000" stop-color="#8000ff"/><stop offset="0.053" stop-color="#8000ff"/><stop offset="0.105" stop-color="#7e03ff"/><stop offset="0.158" stop-color="#7a09ff"/><stop offset="0.211" stop-color="#7610ff"/><stop offset="0.263" stop-color="#7019ff"/><stop offset="0.316" stop-color="#6826fe"/><stop offset="0.368" stop-color="#5e35fe"/><stop offset="0.421" stop-color="#5444fd"/><stop offset="0.474" stop-color="#4856fb"/><stop offset="0.526" stop-color="#396bf9"/><stop offset="0.579" stop-color="#2981f6"/><stop offset="0.632" stop-color="#1898f2"/><stop offset="0.684" stop-color="#06aeed"/><stop offset="0.737" stop-color="#10c6e6"/><stop offset="0.789" stop-color="#27dade"/><stop offset="0.842" stop-color="#40ecd4"/><stop offset="0.895" stop-color="#5df9c7"/><stop offset="0.947" stop-color="#7affb7"/><stop offset="1.000" stop-color="#9bfba5"/></linearGradient>
<linearGradient id="g41" gradientUnits="userSpaceOnUse" x1="229.7" x2="388.8" y1="0" y2="0" spreadMethod="reflect"><stop offset="0.000" stop-color="#8000ff"/><stop offset="0.053" stop-color="#8000ff"/><stop offset="0.105" stop-color="#7e03ff"/><stop offset="0.158" stop-color="#7a09ff"/><stop offset="0.211" stop-color="#7610ff"/><stop offset="0.263" stop-color="#7019ff"/><stop offset="0.316" stop-color="#6826fe"/><stop offset="0.368" stop-color="#6032fe"/><stop offset="0.421" stop-color="#5641fd"/><stop offset="0.474" stop-color="#4a53fb"/><stop offset="0.526" stop-color="#3c68f9"/><stop offset="0.579" stop-color="#2c7ef7"/><stop offset="0.632" stop-color="#1c93f3"/><stop offset="0.684" stop-color="#08acee"/><stop offset="0.737" stop-color="#0dc2e8"/><stop offset="0.789" stop-color="#22d6e0"/><stop offset="0.842" stop-color="#3dead5"/><stop offset="0.895" stop-color="#56f7ca"/><stop offset="0.947" stop-color="#74feba"/><stop offset="1.000" stop-color="#92fda9"/></linearGradient>
<linearGradient id="g42" gradientUnits="userSpaceOnUse" x1="229.7" x2="388.8" y1="0" y2="0" spreadMethod="reflect"><stop offset="0.000" stop-color="#8000ff"/><stop offset="0.053" stop-color="#8000ff"/><stop offset="0.105" stop-color="#7e03ff"/><stop offset="0.158" stop-color="#7c06ff"/><stop offset="0.211" stop-color="#7610ff"/><stop offset="0.263" stop-color="#7019ff"/><stop offset="0.316" stop-color="#6a22fe"/><stop offset="0.368" stop-color="#6032fe"/><stop offset="0.421" stop-color="#5641fd"/><stop offset="0.474" stop-color="#4a53fb"/><stop offset="0.526" stop-color="#3e65fa"/><stop offset="0.579" stop-color="#2e7bf7"/><stop offset="0.632" stop-color="#1e91f3"/><stop offset="0.684" stop-color="#0ca7ef"/><stop offset="0.737" stop-color="#08bee9"/><stop offset="0.789" stop-color="#1fd3e1"/><stop offset="0.842" stop-color="#38e7d7"/><stop offset="0.895" stop-color="#52f5cb"/><stop offset="0.947" stop-color="#6efebe"/><stop offset="1.000" stop-color="#8cfead"/></linearGradient>
<linearGradient id="g43" gradientUnits="userSpaceOnUse" x1="229.7" x2="388.8" y1="0" y2="0" spreadMethod="reflect"><stop offset="0.000" stop-color="#8000ff"/><stop offset="0.053" stop-color="#8000ff"/><stop offset="0.105" stop-color="#7e03ff"/><stop offset="0.158" stop-color="#7c06ff"/><stop offset="0.211" stop-color="#7610ff"/><stop offset="0.263" stop-color="#7019ff"/><stop offset="0.316" stop-color="#6a22fe"/><stop offset="0.368" stop-color="#622ffe"/><stop offset="0.421" stop-color="#583efd"/><stop offset="0.474" stop-color="#4c50fc"/><stop offset="0.526" stop-color="#3e65fa"/><stop offset="0.579" stop-color="#3079f7"/><stop offset="0.632" stop-color="#208ef4"/><stop offset="0.684" stop-color="#0ea5ef"/><stop offset="0.737" stop-color="#07bbea"/><stop offset="0.789" stop-color="#1dd1e2"/><stop offset="0.842" stop-color="#32e3da"/><stop offset="0.895" stop-color="#4df3ce"/><stop offset="0.947" stop-color="#68fcc1"/><stop offset="1.000" stop-color="#86ffb0"/></linearGradient>
<linearGradient id="g44" gradientUnits="userSpaceOnUse" x1="229.7" x2="388.8" y1="0" y2="0" spreadMethod="reflect"><stop offset="0.000" stop-color="#8000ff"/><stop offset="0.053" stop-color="#8000ff"/><stop offset="0.105" stop-color="#7e03ff"/><stop offset="0.158" stop-color="#7c06ff"/><stop offset="0.211" stop-color="#7610ff"/><stop offset="0.263" stop-color="#7216ff"/><stop offset="0.316" stop-color="#6a22fe"/><stop offset="0.368" stop-color="#622ffe"/><stop offset="0.421" stop-color="#583efd"/><stop offset="0.474" stop-color="#4e4dfc"/><stop offset="0.526" stop-color="#4062fa"/><stop offset="0.579" stop-color="#3176f8"/><stop offset="0.632" stop-color="#218cf4"/><stop offset="0.684" stop-color="#10a2f0"/><stop offset="0.737" stop-color="#02b7eb"/><stop offset="0.789" stop-color="#18cde4"/><stop offset="0.842" stop-color="#2fe0db"/><stop offset="0.895" stop-color="#48f1d0"/><stop offset="0.947" stop-color="#62fbc4"/><stop offset="1.000" stop-color="#80ffb4"/></linearGradient>
<linearGradient id="g45" gradientUnits="userSpaceOnUse" x1="229.7" x2="388.8" y1="0" y2="0" spreadMethod="reflect"><stop offset="0.000" stop-color="#8000ff"/><stop offset="0.053" stop-color="#8000ff"/><stop offset="0.105" stop-color="#7e03ff"/><stop offset="0.158" stop-color="#7c06ff"/><stop offset="0.211" stop-color="#780dff"/><stop offset="0.263" stop-color="#7216ff"/><stop offset="0.316" stop-color="#6a22fe"/><stop offset="0.368" stop-color="#622ffe"/><stop offset="0.421" stop-color="#5a3bfd"/><stop offset="0.474" stop-color="#4e4dfc"/><stop offset="0.526" stop-color="#425ffa"/><stop offset="0.579" stop-color="#3473f8"/><stop offset="0.632" stop-color="#2489f5"/><stop offset="0.684" stop-color="#149df1"/><stop offset="0.737" stop-color="#01b3ec"/><stop offset="0.789" stop-color="#14cae5"/><stop offset="0.842" stop-color="#2adddd"/><stop offset="0.895" stop-color="#42edd3"/><stop offset="0.947" stop-color="#5df9c7"/><stop offset="1.000" stop-color="#78ffb8"/></linearGradient>
<linearGradient id="g46" gradientUnits="userSpaceOnUse" x1="229.7" x2="388.8" y1="0" y2="0" spreadMethod="reflect"><stop offset="0.000" stop-color="#8000ff"/><stop offset="0.053" stop-color="#8000ff"/><stop offset="0.105" stop-color="#7e03ff"/><stop offset="0.158" stop-color="#7c06ff"/><stop offset="0.211" stop-color="#780dff"/><stop offset="0.263" stop-color="#7216ff"/><stop offset="0.316" stop-color="#6c1fff"/><stop offset="0.368" stop-color="#642cfe"/><stop offset="0.421" stop-color="#5a3bfd"/><stop offset="0.474" stop-color="#504afc"/><stop offset="0.526" stop-color="#445cfb"/><stop offset="0.579" stop-color="#3670f8"/><stop offset="0.632" stop-color="#2884f6"/><stop offset="0.684" stop-color="#169bf2"/><stop offset="0.737" stop-color="#04b0ed"/><stop offset="0.789" stop-color="#10c6e6"/><stop offset="0.842" stop-color="#27dade"/><stop offset="0.895" stop-color="#3febd5"/><stop offset="0.947" stop-color="#56f7ca"/><stop offset="1.000" stop-color="#72febb"/></linearGradient>
<linearGradient id="g47" gradientUnits="userSpaceOnUse" x1="229.7" x2="388.8" y1="0" y2="0" spreadMethod="reflect"><stop offset="0.000" stop-color="#8000ff"/><stop offset="0.053" stop-color="#8000ff"/><stop offset="0.105" stop-color="#7e03ff"/><stop offset="0.158" stop-color="#7c06ff"/><stop offset="0.211" stop-color="#780dff"/><stop offset="0.263" stop-color="#7216ff"/><stop offset="0.316" stop-color="#6c1fff"/><stop offset="0.368" stop-color="#642cfe"/><stop offset="0.421" stop-color="#5c38fd"/><stop offset="0.474" stop-color="#504afc"/><stop offset="0.526" stop-color="#4659fb"/><stop offset="0.579" stop-color="#386df9"/><stop offset="0.632" stop-color="#2981f6"/><stop offset="0.684" stop-color="#1996f3"/><stop offset="0.737" stop-color="#08acee"/><stop offset="0.789" stop-color="#0dc2e8"/><stop offset="0.842" stop-color="#22d6e0"/><stop offset="0.895" stop-color="#38e7d7"/><stop offset="0.947" stop-color="#52f5cb"/><stop offset="1.000" stop-color="#6dfdbf"/></linearGradient>
<linearGradient id="g48" gradientUnits="userSpaceOnUse" x1="229.7" x2="388.8" y1="0" y2="0" spreadMethod="reflect"><stop offset="0.000" stop-color="#8000ff"/><stop offset="0.053" stop-color="#8000ff"/><stop offset="0.105" stop-color="#7e03ff"/><stop offset="0.158" stop-color="#7c06ff"/><stop offset="0.211" stop-color="#780dff"/><stop offset="0.263" stop-color="#7216ff"/><stop offset="0.316" stop-color="#6c1fff"/><stop offset="0.368" stop-color="#6629fe"/><stop offset="0.421" stop-color="#5c38fd"/><stop offset="0.474" stop-color="#5247fc"/><stop offset="0.526" stop-color="#4659fb"/><stop offset="0.579" stop-color="#396bf9"/><stop offset="0.632" stop-color="#2c7ef7"/><stop offset="0.684" stop-color="#1c93f3"/><stop offset="0.737" stop-color="#09a9ee"/><stop offset="0.789" stop-color="#08bee9"/><stop offset="0.842" stop-color="#1dd1e2"/><stop offset="0.895" stop-color="#34e4d9"/><stop offset="0.947" stop-color="#4df3ce"/><stop offset="1.000" stop-color="#66fcc2"/></linearGradient>
<linearGradient id="g49" gradientUnits="userSpaceOnUse" x1="229.7" x2="388.8" y1="0" y2="0" spreadMethod="reflect"><stop offset="0.000" stop-color="#8000ff"/><stop offset="0.053" stop-color="#8000ff"/><stop offset="0.105" stop-color="#7e03ff"/><stop offset="0.158" stop-color="#7c06ff"/><stop offset="0.211" stop-color="#780dff"/><stop offset="0.263" stop-color="#7413ff"/><stop offset="0.316" stop-color="#6e1cff"/><stop offset="0.368" stop-color="#6629fe"/><stop offset="0.421" stop-color="#5e35fe"/><stop offset="0.474" stop-color="#5444fd"/><stop offset="0.526" stop-color="#4856fb"/><stop offset="0.579" stop-color="#3c68f9"/><stop offset="0.632" stop-color="#2e7bf7"/><stop offset="0.684" stop-color="#1e91f3"/><stop offset="0.737" stop-color="#0ea5ef"/><stop offset="0.789" stop-color="#04b9ea"/><stop offset="0.842" stop-color="#18cde4"/><stop offset="0.895" stop-color="#2fe0db"/><stop offset="0.947" stop-color="#46efd1"/><stop offset="1.000" stop-color="#60fac5"/></linearGradient>
<linearGradient id="g50" gradientUnits="userSpaceOnUse" x1="229.7" x2="388.8" y1="0" y2="0" spreadMethod="reflect"><stop offset="0.000" stop-color="#8000ff"/><stop offset="0.053" stop-color="#8000ff"/><stop offset="0.105" stop-color="#7e03ff"/><stop offset="0.158" stop-color="#7c06ff"/><stop offset="0.211" stop-color="#780dff"/><stop offset="0.263" stop-color="#7413ff"/><stop offset="0.316" stop-color="#6e1cff"/><stop offset="0.368" stop-color="#6629fe"/><stop offset="0.421" stop-color="#5e35fe"/><stop offset="0.474" stop-color="#5444fd"/><stop offset="0.526" stop-color="#4a53fb"/><stop offset="0.579" stop-color="#3e65fa"/><stop offset="0.632" stop-color="#3079f7"/><stop offset="0.684" stop-color="#218cf4"/><stop offset="0.737" stop-color="#11a0f1"/><stop offset="0.789" stop-color="#00b5eb"/><stop offset="0.842" stop-color="#14cae5"/><stop offset="0.895" stop-color="#2adddd"/><stop offset="0.947" stop-color="#40ecd4"/><stop offset="1.000" stop-color="#5af8c8"/></linearGradient>
<linearGradient id="g51" gradientUnits="userSpaceOnUse" x1="229.7" x2="388.8" y1="0" y2="0" spreadMethod="reflect"><stop offset="0.000" stop-color="#8000ff"/><stop offset="0.053" stop-color="#8000ff"/><stop offset="0.105" stop-color="#7e03ff"/><stop offset="0.158" stop-color="#7c06ff"/><stop offset="0.211" stop-color="#780dff"/><stop offset="0.263" stop-color="#7413ff"/><stop offset="0.316" stop-color="#6e1cff"/><stop offset="0.368" stop-color="#6826fe"/><stop offset="0.421" stop-color="#6032fe"/><stop offset="0.474" stop-color="#5641fd"/><stop offset="0.526" stop-color="#4c50fc"/><stop offset="0.579" stop-color="#4062fa"/><stop offset="0.632" stop-color="#3176f8"/><stop offset="0.684" stop-color="#2489f5"/><stop offset="0.737" stop-color="#149df1"/><stop offset="0.789" stop-color="#01b3ec"/><stop offset="0.842" stop-color="#10c6e6"/><stop offset="0.895" stop-color="#24d8df"/><stop offset="0.947" stop-color="#3dead5"/><stop offset="1.000" stop-color="#54f6cb"/></linearGradient>
<linearGradient id="g52" gradientUnits="userSpaceOnUse" x1="229.7" x2="388.8" y1="0" y2="0" spreadMethod="reflect"><stop offset="0.000" stop-color="#8000ff"/><stop offset="0.053" stop-color="#8000ff"/><stop offset="0.105" stop-color="#7e03ff"/><stop offset="0.158" stop-color="#7c06ff"/><stop offset="0.211" stop-color="#780dff"/><stop offset="0.263" stop-color="#7413ff"/><stop offset="0.316" stop-color="#6e1cff"/><stop offset="0.368" stop-color="#6826fe"/><stop offset="0.421" stop-color="#6032fe"/><stop offset="0.474" stop-color="#583efd"/><stop offset="0.526" stop-color="#4c50fc"/><stop offset="0.579" stop-color="#425ffa"/><stop offset="0.632" stop-color="#3473f8"/><stop offset="0.684" stop-color="#2686f5"/><stop offset="0.737" stop-color="#1898f2"/><stop offset="0.789" stop-color="#06aeed"/><stop offset="0.842" stop-color="#0dc2e8"/><stop offset="0.895" stop-color="#20d5e1"/><stop offset="0.947" stop-color="#37e6d8"/><stop offset="1.000" stop-color="#4ef3cd"/></linearGradient>
<linearGradient id="g53" gradientUnits="userSpaceOnUse" x1="229.7" x2="388.8" y1="0" y2="0" spreadMethod="reflect"><stop offset="0.000" stop-color="#8000ff"/><stop offset="0.053" stop-color="#8000ff"/><stop offset="0.105" stop-color="#8000ff"/><stop offset="0.158" stop-color="#7c06ff"/><stop offset="0.211" stop-color="#7a09ff"/><stop offset="0.263" stop-color="#7413ff"/><stop offset="0.316" stop-color="#7019ff"/><stop offset="0.368" stop-color="#6826fe"/><stop offset="0.421" stop-color="#622ffe"/><stop offset="0.474" stop-color="#583efd"/><stop offset="0.526" stop-color="#4e4dfc"/><stop offset="0.579" stop-color="#445cfb"/><stop offset="0.632" stop-color="#3670f8"/><stop offset="0.684" stop-color="#2981f6"/><stop offset="0.737" stop-color="#1996f3"/><stop offset="0.789" stop-color="#09a9ee"/><stop offset="0.842" stop-color="#08bee9"/><stop offset="0.895" stop-color="#1dd1e2"/><stop offset="0.947" stop-color="#30e1da"/><stop offset="1.000" stop-color="#48f1d0"/></linearGradient>
<linearGradient id="g54" gradientUnits="userSpaceOnUse" x1="229.7" x2="388.8" y1="0" y2="0" spreadMethod="reflect"><stop offset="0.000" stop-color="#8000ff"/><stop offset="0.053" stop-color="#8000ff"/><stop offset="0.105" stop-color="#8000ff"/><stop offset="0.158" stop-color="#7c06ff"/><stop offset="0.211" stop-color="#7a09ff"/><stop offset="0.263" stop-color="#7610ff"/><stop offset="0.316" stop-color="#7019ff"/><stop offset="0.368" stop-color="#6a22fe"/><stop offset="0.421" stop-color="#622ffe"/><stop offset="0.474" stop-color="#5a3bfd"/><stop offset="0.526" stop-color="#504afc"/><stop offset="0.579" stop-color="#4659fb"/><stop offset="0.632" stop-color="#396bf9"/><stop offset="0.684" stop-color="#2c7ef7"/><stop offset="0.737" stop-color="#1e91f3"/><stop offset="0.789" stop-color="#0ea5ef"/><stop offset="0.842" stop-color="#04b9ea"/><stop offset="0.895" stop-color="#17cbe4"/><stop offset="0.947" stop-color="#2ddedc"/><stop offset="1.000" stop-color="#42edd3"/></linearGradient>
<linearGradient id="g55" gradientUnits="userSpaceOnUse" x1="229.7" x2="388.8" y1="0" y2="0" spreadMethod="reflect"><stop offset="0.000" stop-color="#8000ff"/><stop offset="0.053" stop-color="#8000ff"/><stop offset="0.105" stop-color="#8000ff"/><stop offset="0.158" stop-color="#7c06ff"/><stop offset="0.211" stop-color="#7a09ff"/><stop offset="0.263" stop-color="#7610ff"/><stop offset="0.316" stop-color="#7019ff"/><stop offset="0.368" stop-color="#6a22fe"/><stop offset="0.421" stop-color="#622ffe"/><stop offset="0.474" stop-color="#5a3bfd"/><stop offset="0.526" stop-color="#5247fc"/><stop offset="0.579" stop-color="#4856fb"/><stop offset="0.632" stop-color="#3c68f9"/><stop offset="0.684" stop-color="#2e7bf7"/><stop offset="0.737" stop-color="#208ef4"/><stop offset="0.789" stop-color="#11a0f1"/><stop offset="0.842" stop-color="#00b5eb"/><stop offset="0.895" stop-color="#12c8e6"/><stop offset="0.947" stop-color="#27dade"/><stop offset="1.000" stop-color="#3dead5"/></linearGradient>
<linearGradient id="g56" gradientUnits="userSpaceOnUse" x1="229.7" x2="388.8" y1="0" y2="0" spreadMethod="reflect"><stop offset="0.000" stop-color="#8000ff"/><stop offset="0.053" stop-color="#8000ff"/><stop offset="0.105" stop-color="#8000ff"/><stop offset="0.158" stop-color="#7e03ff"/><stop offset="0.211" stop-color="#7a09ff"/><stop offset="0.263" stop-color="#7610ff"/><stop offset="0.316" stop-color="#7019ff"/><stop offset="0.368" stop-color="#6a22fe"/><stop offset="0.421" stop-color="#642cfe"/><stop offset="0.474" stop-color="#5c38fd"/><stop offset="0.526" stop-color="#5247fc"/><stop offset="0.579" stop-color="#4856fb"/><stop offset="0.632" stop-color="#3e65fa"/><stop offset="0.684" stop-color="#3176f8"/><stop offset="0.737" stop-color="#2489f5"/><stop offset="0.789" stop-color="#149df1"/><stop offset="0.842" stop-color="#04b0ed"/><stop offset="0.895" stop-color="#0fc4e7"/><stop offset="0.947" stop-color="#20d5e1"/><stop offset="1.000" stop-color="#37e6d8"/></linearGradient>
<linearGradient id="g57" gradientUnits="userSpaceOnUse" x1="229.7" x2="388.8" y1="0" y2="0" spreadMethod="reflect"><stop offset="0.000" stop-color="#8000ff"/><stop offset="0.053" stop-color="#8000ff"/><stop offset="0.105" stop-color="#8000ff"/><stop offset="0.158" stop-color="#7e03ff"/><stop offset="0.211" stop-color="#7a09ff"/><stop offset="0.263" stop-color="#7610ff"/><stop offset="0.316" stop-color="#7216ff"/><stop offset="0.368" stop-color="#6c1fff"/><stop offset="0.421" stop-color="#642cfe"/><stop offset="0.474" stop-color="#5e35fe"/><stop offset="0.526" stop-color="#5444fd"/><stop offset="0.579" stop-color="#4a53fb"/><stop offset="0.632" stop-color="#4062fa"/><stop offset="0.684" stop-color="#3473f8"/><stop offset="0.737" stop-color="#2686f5"/><stop offset="0.789" stop-color="#1898f2"/><stop offset="0.842" stop-color="#08acee"/><stop offset="0.895" stop-color="#08bee9"/><stop offset="0.947" stop-color="#1dd1e2"/><stop offset="1.000" stop-color="#30e1da"/></linearGradient>
<linearGradient id="g58" gradientUnits="userSpaceOnUse" x1="229.7" x2="388.8" y1="0" y2="0" spreadMethod="reflect"><stop offset="0.000" stop-color="#8000ff"/><stop offset="0.053" stop-color="#8000ff"/><stop offset="0.105" stop-color="#8000ff"/><stop offset="0.158" stop-color="#7e03ff"/><stop offset="0.211" stop-color="#7a09ff"/><stop offset="0.263" stop-color="#7610ff"/><stop offset="0.316" stop-color="#7216ff"/><stop offset="0.368" stop-color="#6c1fff"/><stop offset="0.421" stop-color="#6629fe"/><stop offset="0.474" stop-color="#5e35fe"/><stop offset="0.526" stop-color="#5641fd"/><stop offset="0.579" stop-color="#4c50fc"/><stop offset="0.632" stop-color="#425ffa"/><stop offset="0.684" stop-color="#3670f8"/><stop offset="0.737" stop-color="#2981f6"/><stop offset="0.789" stop-color="#1c93f3"/><stop offset="0.842" stop-color="#0ca7ef"/><stop offset="0.895" stop-color="#04b9ea"/><stop offset="0.947" stop-color="#17cbe4"/><stop offset="1.000" stop-color="#28dbde"/></linearGradient>
<linearGradient id="g59" gradientUnits="userSpaceOnUse" x1="229.7" x2="388.8" y1="0" y2="0" spreadMethod="reflect"><stop offset="0.000" stop-color="#8000ff"/><stop offset="0.053" stop-color="#8000ff"/><stop offset="0.105" stop-color="#8000ff"/><stop offset="0.158" stop-color="#7e03ff"/><stop offset="0.211" stop-color="#7a09ff"/><stop offset="0.263" stop-color="#7610ff"/><stop offset="0.316" stop-color="#7216ff"/><stop offset="0.368" stop-color="#6e1cff"/><stop offset="0.421" stop-color="#6629fe"/><stop offset="0.474" stop-color="#6032fe"/><stop offset="0.526" stop-color="#583efd"/><stop offset="0.579" stop-color="#4e4dfc"/><stop offset="0.632" stop-color="#445cfb"/><stop offset="0.684" stop-color="#396bf9"/><stop offset="0.737" stop-color="#2e7bf7"/><stop offset="0.789" stop-color="#208ef4"/><stop offset="0.842" stop-color="#10a2f0"/><stop offset="0.895" stop-color="#01b3ec"/><stop offset="0.947" stop-color="#10c6e6"/><stop offset="1.000" stop-color="#22d6e0"/></linearGradient>
<linearGradient id="g60" gradientUnits="userSpaceOnUse" x1="229.7" x2="388.8" y1="0" y2="0" spreadMethod="reflect"><stop offset="0.000" stop-color="#8000ff"/><stop offset="0.053" stop-color="#8000ff"/><stop offset="0.105" stop-color="#8000ff"/><stop offset="0.158" stop-color="#7e03ff"/><stop offset="0.211" stop-color="#7a09ff"/><stop offset="0.263" stop-color="#780dff"/><stop offset="0.316" stop-color="#7413ff"/><stop offset="0.368" stop-color="#6e1cff"/><stop offset="0.421" stop-color="#6826fe"/><stop offset="0.474" stop-color="#6032fe"/><stop offset="0.526" stop-color="#5a3bfd"/><stop offset="0.579" stop-color="#504afc"/><stop offset="0.632" stop-color="#4659fb"/><stop offset="0.684" stop-color="#3c68f9"/><stop offset="0.737" stop-color="#3079f7"/><stop offset="0.789" stop-color="#2489f5"/><stop offset="0.842" stop-color="#169bf2"/><stop offset="0.895" stop-color="#06aeed"/><stop offset="0.947" stop-color="#0ac0e8"/><stop offset="1.000" stop-color="#1dd1e2"/></linearGradient>
<linearGradient id="g61" gradientUnits="userSpaceOnUse" x1="229.7" x2="388.8" y1="0" y2="0" spreadMethod="reflect"><stop offset="0.000" stop-color="#8000ff"/><stop offset="0.053" stop-color="#8000ff"/><stop offset="0.105" stop-color="#8000ff"/><stop offset="0.158" stop-color="#7e03ff"/><stop offset="0.211" stop-color="#7c06ff"/><stop offset="0.263" stop-color="#780dff"/><stop offset="0.316" stop-color="#7413ff"/><stop offset="0.368" stop-color="#6e1cff"/><stop offset="0.421" stop-color="#6826fe"/><stop offset="0.474" stop-color="#622ffe"/><stop offset="0.526" stop-color="#5a3bfd"/><stop offset="0.579" stop-color="#5247fc"/><stop offset="0.632" stop-color="#4856fb"/><stop offset="0.684" stop-color="#3e65fa"/><stop offset="0.737" stop-color="#3473f8"/><stop offset="0.789" stop-color="#2686f5"/><stop offset="0.842" stop-color="#1996f3"/><stop offset="0.895" stop-color="#09a9ee"/><stop offset="0.947" stop-color="#07bbea"/><stop offset="1.000" stop-color="#17cbe4"/></linearGradient>
<linearGradient id="g62" gradientUnits="userSpaceOnUse" x1="229.7" x2="388.8" y1="0" y2="0" spreadMethod="reflect"><stop offset="0.000" stop-color="#8000ff"/><stop offset="0.053" stop-color="#8000ff"/><stop offset="0.105" stop-color="#8000ff"/><stop offset="0.158" stop-color="#7e03ff"/><stop offset="0.211" stop-color="#7c06ff"/><stop offset="0.263" stop-color="#780dff"/><stop offset="0.316" stop-color="#7413ff"/><stop offset="0.368" stop-color="#7019ff"/><stop offset="0.421" stop-color="#6a22fe"/><stop offset="0.474" stop-color="#642cfe"/><stop offset="0.526" stop-color="#5c38fd"/><stop offset="0.579" stop-color="#5444fd"/><stop offset="0.632" stop-color="#4c50fc"/><stop offset="0.684" stop-color="#425ffa"/><stop offset="0.737" stop-color="#3670f8"/><stop offset="0.789" stop-color="#2981f6"/><stop offset="0.842" stop-color="#1e91f3"/><stop offset="0.895" stop-color="#10a2f0"/><stop offset="0.947" stop-color="#00b5eb"/><stop offset="1.000" stop-color="#10c6e6"/></linearGradient>
<linearGradient id="g63" gradientUnits="userSpaceOnUse" x1="229.7" x2="388.8" y1="0" y2="0" spreadMethod="reflect"><stop offset="0.000" stop-color="#8000ff"/><stop offset="0.053" stop-color="#8000ff"/><stop offset="0.105" stop-color="#8000ff"/><stop offset="0.158" stop-color="#7e03ff"/><stop offset="0.211" stop-color="#7c06ff"/><stop offset="0.263" stop-color="#780dff"/><stop offset="0.316" stop-color="#7413ff"/><stop offset="0.368" stop-color="#7019ff"/><stop offset="0.421" stop-color="#6a22fe"/><stop offset="0.474" stop-color="#642cfe"/><stop offset="0.526" stop-color="#5e35fe"/><stop offset="0.579" stop-color="#5641fd"/><stop offset="0.632" stop-color="#4e4dfc"/><stop offset="0.684" stop-color="#445cfb"/><stop offset="0.737" stop-color="#396bf9"/><stop offset="0.789" stop-color="#2e7bf7"/><stop offset="0.842" stop-color="#218cf4"/><stop offset="0.895" stop-color="#149df1"/><stop offset="0.947" stop-color="#06aeed"/><stop offset="1.000" stop-color="#0ac0e8"/></linearGradient>
<linearGradient id="g64" gradientUnits="userSpaceOnUse" x1="229.7" x2="388.8" y1="0" y2="0" spreadMethod="reflect"><stop offset="0.000" stop-color="#8000ff"/><stop offset="0.053" stop-color="#8000ff"/><stop offset="0.105" stop-color="#8000ff"/><stop offset="0.158" stop-color="#7e03ff"/><stop offset="0.211" stop-color="#7c06ff"/><stop offset="0.263" stop-color="#780dff"/><stop offset="0.316" stop-color="#7610ff"/><stop offset="0.368" stop-color="#7019ff"/><stop offset="0.421" stop-color="#6c1fff"/><stop offset="0.474" stop-color="#6629fe"/><stop offset="0.526" stop-color="#6032fe"/><stop offset="0.579" stop-color="#583efd"/><stop offset="0.632" stop-color="#504afc"/><stop offset="0.684" stop-color="#4659fb"/><stop offset="0.737" stop-color="#3c68f9"/><stop offset="0.789" stop-color="#3176f8"/><stop offset="0.842" stop-color="#2686f5"/><stop offset="0.895" stop-color="#1898f2"/><stop offset="0.947" stop-color="#09a9ee"/><stop offset="1.000" stop-color="#04b9ea"/></linearGradient>
<linearGradient id="g65" gradientUnits="userSpaceOnUse" x1="229.7" x2="388.8" y1="0" y2="0" spreadMethod="reflect"><stop offset="0.000" stop-color="#8000ff"/><stop offset="0.053" stop-color="#8000ff"/><stop offset="0.105" stop-color="#8000ff"/><stop offset="0.158" stop-color="#7e03ff"/><stop offset="0.211" stop-color="#7c06ff"/><stop offset="0.263" stop-color="#7a09ff"/><stop offset="0.316" stop-color="#7610ff"/><stop offset="0.368" stop-color="#7216ff"/><stop offset="0.421" stop-color="#6c1fff"/><stop offset="0.474" stop-color="#6826fe"/><stop offset="0.526" stop-color="#6032fe"/><stop offset="0.579" stop-color="#5a3bfd"/><stop offset="0.632" stop-color="#5247fc"/><stop offset="0.684" stop-color="#4a53fb"/><stop offset="0.737" stop-color="#4062fa"/><stop offset="0.789" stop-color="#3473f8"/><stop offset="0.842" stop-color="#2981f6"/><stop offset="0.895" stop-color="#1e91f3"/><stop offset="0.947" stop-color="#10a2f0"/><stop offset="1.000" stop-color="#01b3ec"/></linearGradient>
<linearGradient id="g66" gradientUnits="userSpaceOnUse" x1="229.7" x2="388.8" y1="0" y2="0" spreadMethod="reflect"><stop offset="0.000" stop-color="#8000ff"/><stop offset="0.053" stop-color="#8000ff"/><stop offset="0.105" stop-color="#8000ff"/><stop offset="0.158" stop-color="#7e03ff"/><stop offset="0.211" stop-color="#7c06ff"/><stop offset="0.263" stop-color="#7a09ff"/><stop offset="0.316" stop-color="#7610ff"/><stop offset="0.368" stop-color="#7216ff"/><stop offset="0.421" stop-color="#6e1cff"/><stop offset="0.474" stop-color="#6826fe"/><stop offset="0.526" stop-color="#622ffe"/><stop offset="0.579" stop-color="#5c38fd"/><stop offset="0.632" stop-color="#5444fd"/><stop offset="0.684" stop-color="#4c50fc"/><stop offset="0.737" stop-color="#425ffa"/><stop offset="0.789" stop-color="#386df9"/><stop offset="0.842" stop-color="#2e7bf7"/><stop offset="0.895" stop-color="#218cf4"/><stop offset="0.947" stop-color="#149df1"/><stop offset="1.000" stop-color="#06aeed"/></linearGradient>
<linearGradient id="g67" gradientUnits="userSpaceOnUse" x1="229.7" x2="388.8" y1="0" y2="0" spreadMethod="reflect"><stop offset="0.000" stop-color="#8000ff"/><stop offset="0.053" stop-color="#8000ff"/><stop offset="0.105" stop-color="#8000ff"/><stop offset="0.158" stop-color="#7e03ff"/><stop offset="0.211" stop-color="#7c06ff"/><stop offset="0.263" stop-color="#7a09ff"/><stop offset="0.316" stop-color="#7610ff"/><stop offset="0.368" stop-color="#7216ff"/><stop offset="0.421" stop-color="#6e1cff"/><stop offset="0.474" stop-color="#6a22fe"/><stop offset="0.526" stop-color="#642cfe"/><stop offset="0.579" stop-color="#5e35fe"/><stop offset="0.632" stop-color="#5641fd"/><stop offset="0.684" stop-color="#4e4dfc"/><stop offset="0.737" stop-color="#4659fb"/><stop offset="0.789" stop-color="#3c68f9"/><stop offset="0.842" stop-color="#3176f8"/><stop offset="0.895" stop-color="#2686f5"/><stop offset="0.947" stop-color="#1996f3"/><stop offset="1.000" stop-color="#0ca7ef"/></linearGradient>
<linearGradient id="g68" gradientUnits="userSpaceOnUse" x1="229.7" x2="388.8" y1="0" y2="0" spreadMethod="reflect"><stop offset="0.000" stop-color="#8000ff"/><stop offset="0.053" stop-color="#8000ff"/><stop offset="0.105" stop-color="#8000ff"/><stop offset="0.158" stop-color="#7e03ff"/><stop offset="0.211" stop-color="#7c06ff"/><stop offset="0.263" stop-color="#7a09ff"/><stop offset="0.316" stop-color="#780dff"/><stop offset="0.368" stop-color="#7413ff"/><stop offset="0.421" stop-color="#7019ff"/><stop offset="0.474" stop-color="#6a22fe"/><stop offset="0.526" stop-color="#642cfe"/><stop offset="0.579" stop-color="#5e35fe"/><stop offset="0.632" stop-color="#583efd"/><stop offset="0.684" stop-color="#504afc"/><stop offset="0.737" stop-color="#4856fb"/><stop offset="0.789" stop-color="#3e65fa"/><stop offset="0.842" stop-color="#3670f8"/><stop offset="0.895" stop-color="#2981f6"/><stop offset="0.947" stop-color="#1e91f3"/><stop offset="1.000" stop-color="#11a0f1"/></linearGradient>
<linearGradient id="g69" gradientUnits="userSpaceOnUse" x1="229.7" x2="388.8" y1="0" y2="0" spreadMethod="reflect"><stop offset="0.000" stop-color="#8000ff"/><stop offset="0.053" stop-color="#8000ff"/><stop offset="0.105" stop-color="#8000ff"/><stop offset="0.158" stop-color="#7e03ff"/><stop offset="0.211" stop-color="#7c06ff"/><stop offset="0.263" stop-color="#7a09ff"/><stop offset="0.316" stop-color="#780dff"/><stop offset="0.368" stop-color="#7413ff"/><stop offset="0.421" stop-color="#7019ff"/><stop offset="0.474" stop-color="#6c1fff"/><stop offset="0.526" stop-color="#6629fe"/><stop offset="0.579" stop-color="#6032fe"/><stop offset="0.632" stop-color="#5a3bfd"/><stop offset="0.684" stop-color="#5247fc"/><stop offset="0.737" stop-color="#4a53fb"/><stop offset="0.789" stop-color="#425ffa"/><stop offset="0.842" stop-color="#386df9"/><stop offset="0.895" stop-color="#2e7bf7"/><stop offset="0.947" stop-color="#2489f5"/><stop offset="1.000" stop-color="#1898f2"/></linearGradient>
<linearGradient id="g70" gradientUnits="userSpaceOnUse" x1="229.7" x2="388.8" y1="0" y2="0" spreadMethod="reflect"><stop offset="0.000" stop-color="#8000ff"/><stop offset="0.053" stop-color="#8000ff"/><stop offset="0.105" stop-color="#8000ff"/><stop offset="0.158" stop-color="#7e03ff"/><stop offset="0.211" stop-color="#7e03ff"/><stop offset="0.263" stop-color="#7a09ff"/><stop offset="0.316" stop-color="#780dff"/><stop offset="0.368" stop-color="#7413ff"/><stop offset="0.421" stop-color="#7019ff"/><stop offset="0.474" stop-color="#6c1fff"/><stop offset="0.526" stop-color="#6826fe"/><stop offset="0.579" stop-color="#622ffe"/><stop offset="0.632" stop-color="#5c38fd"/><stop offset="0.684" stop-color="#5641fd"/><stop offset="0.737" stop-color="#4e4dfc"/><stop offset="0.789" stop-color="#4659fb"/><stop offset="0.842" stop-color="#3c68f9"/><stop offset="0.895" stop-color="#3176f8"/><stop offset="0.947" stop-color="#2884f6"/><stop offset="1.000" stop-color="#1c93f3"/></linearGradient>
<linearGradient id="g71" gradientUnits="userSpaceOnUse" x1="229.7" x2="388.8" y1="0" y2="0" spreadMethod="reflect"><stop offset="0.000" stop-color="#8000ff"/><stop offset="0.053" stop-color="#8000ff"/><stop offset="0.105" stop-color="#8000ff"/><stop offset="0.158" stop-color="#7e03ff"/><stop offset="0.211" stop-color="#7e03ff"/><stop offset="0.263" stop-color="#7c06ff"/><stop offset="0.316" stop-color="#780dff"/><stop offset="0.368" stop-color="#7610ff"/><stop offset="0.421" stop-color="#7216ff"/><stop offset="0.474" stop-color="#6e1cff"/><stop offset="0.526" stop-color="#6826fe"/><stop offset="0.579" stop-color="#642cfe"/><stop offset="0.632" stop-color="#5e35fe"/><stop offset="0.684" stop-color="#583efd"/><stop offset="0.737" stop-color="#504afc"/><stop offset="0.789" stop-color="#4856fb"/><stop offset="0.842" stop-color="#4062fa"/><stop offset="0.895" stop-color="#3670f8"/><stop offset="0.947" stop-color="#2c7ef7"/><stop offset="1.000" stop-color="#218cf4"/></linearGradient>
<linearGradient id="g72" gradientUnits="userSpaceOnUse" x1="229.7" x2="388.8" y1="0" y2="0" spreadMethod="reflect"><stop offset="0.000" stop-color="#8000ff"/><stop offset="0.053" stop-color="#8000ff"/><stop offset="0.105" stop-color="#8000ff"/><stop offset="0.158" stop-color="#8000ff"/><stop offset="0.211" stop-color="#7e03ff"/><stop offset="0.263" stop-color="#7c06ff"/><stop offset="0.316" stop-color="#780dff"/><stop offset="0.368" stop-color="#7610ff"/><stop offset="0.421" stop-color="#7216ff"/><stop offset="0.474" stop-color="#6e1cff"/><stop offset="0.526" stop-color="#6a22fe"/><stop offset="0.579" stop-color="#6629fe"/><stop offset="0.632" stop-color="#6032fe"/><stop offset="0.684" stop-color="#5a3bfd"/><stop offset="0.737" stop-color="#5247fc"/><stop offset="0.789" stop-color="#4c50fc"/><stop offset="0.842" stop-color="#445cfb"/><stop offset="0.895" stop-color="#396bf9"/><stop offset="0.947" stop-color="#3079f7"/><stop offset="1.000" stop-color="#2686f5"/></linearGradient>
<linearGradient id="g73" gradientUnits="userSpaceOnUse" x1="229.7" x2="388.8" y1="0" y2="0" spreadMethod="reflect"><stop offset="0.000" stop-color="#8000ff"/><stop offset="0.053" stop-color="#8000ff"/><stop offset="0.105" stop-color="#8000ff"/><stop offset="0.158" stop-color="#8000ff"/><stop offset="0.211" stop-color="#7e03ff"/><stop offset="0.263" stop-color="#7c06ff"/><stop offset="0.316" stop-color="#7a09ff"/><stop offset="0.368" stop-color="#7610ff"/><stop offset="0.421" stop-color="#7413ff"/><stop offset="0.474" stop-color="#7019ff"/><stop offset="0.526" stop-color="#6c1fff"/><stop offset="0.579" stop-color="#6629fe"/><stop offset="0.632" stop-color="#622ffe"/><stop offset="0.684" stop-color="#5c38fd"/><stop offset="0.737" stop-color="#5641fd"/><stop offset="0.789" stop-color="#4e4dfc"/><stop offset="0.842" stop-color="#4659fb"/><stop offset="0.895" stop-color="#3e65fa"/><stop offset="0.947" stop-color="#3670f8"/><stop offset="1.000" stop-color="#2c7ef7"/></linearGradient>
<linearGradient id="g74" gradientUnits="userSpaceOnUse" x1="229.7" x2="388.8" y1="0" y2="0" spreadMethod="reflect"><stop offset="0.000" stop-color="#8000ff"/><stop offset="0.053" stop-color="#8000ff"/><stop offset="0.105" stop-color="#8000ff"/><stop offset="0.158" stop-color="#8000ff"/><stop offset="0.211" stop-color="#7e03ff"/><stop offset="0.263" stop-color="#7c06ff"/><stop offset="0.316" stop-color="#7a09ff"/><stop offset="0.368" stop-color="#780dff"/><stop offset="0.421" stop-color="#7413ff"/><stop offset="0.474" stop-color="#7019ff"/><stop offset="0.526" stop-color="#6c1fff"/><stop offset="0.579" stop-color="#6826fe"/><stop offset="0.632" stop-color="#622ffe"/><stop offset="0.684" stop-color="#5e35fe"/><stop offset="0.737" stop-color="#583efd"/><stop offset="0.789" stop-color="#504afc"/><stop offset="0.842" stop-color="#4a53fb"/><stop offset="0.895" stop-color="#425ffa"/><stop offset="0.947" stop-color="#396bf9"/><stop offset="1.000" stop-color="#3079f7"/></linearGradient>
<linearGradient id="g75" gradientUnits="userSpaceOnUse" x1="229.7" x2="388.8" y1="0" y2="0" spreadMethod="reflect"><stop offset="0.000" stop-color="#8000ff"/><stop offset="0.053" stop-color="#8000ff"/><stop offset="0.105" stop-color="#8000ff"/><stop offset="0.158" stop-color="#8000ff"/><stop offset="0.211" stop-color="#7e03ff"/><stop offset="0.263" stop-color="#7c06ff"/><stop offset="0.316" stop-color="#7a09ff"/><stop offset="0.368" stop-color="#780dff"/><stop offset="0.421" stop-color="#7413ff"/><stop offset="0.474" stop-color="#7216ff"/><stop offset="0.526" stop-color="#6e1cff"/><stop offset="0.579" stop-color="#6a22fe"/><stop offset="0.632" stop-color="#642cfe"/><stop offset="0.684" stop-color="#6032fe"/><stop offset="0.737" stop-color="#5a3bfd"/><stop offset="0.789" stop-color="#5444fd"/><stop offset="0.842" stop-color="#4c50fc"/><stop offset="0.895" stop-color="#445cfb"/><stop offset="0.947" stop-color="#3c68f9"/><stop offset="1.000" stop-color="#3473f8"/></linearGradient>
<linearGradient id="g76" gradientUnits="userSpaceOnUse" x1="229.7" x2="388.8" y1="0" y2="0" spreadMethod="reflect"><stop offset="0.000" stop-color="#8000ff"/><stop offset="0.053" stop-color="#8000ff"/><stop offset="0.105" stop-color="#8000ff"/><stop offset="0.158" stop-color="#8000ff"/><stop offset="0.211" stop-color="#7e03ff"/><stop offset="0.263" stop-color="#7c06ff"/><stop offset="0.316" stop-color="#7a09ff"/><stop offset="0.368" stop-color="#780dff"/><stop offset="0.421" stop-color="#7610ff"/><stop offset="0.474" stop-color="#7216ff"/><stop offset="0.526" stop-color="#6e1cff"/><stop offset="0.579" stop-color="#6a22fe"/><stop offset="0.632" stop-color="#6629fe"/><stop offset="0.684" stop-color="#622ffe"/><stop offset="0.737" stop-color="#5c38fd"/><stop offset="0.789" stop-color="#5641fd"/><stop offset="0.842" stop-color="#504afc"/><stop offset="0.895" stop-color="#4856fb"/><stop offset="0.947" stop-color="#4062fa"/><stop offset="1.000" stop-color="#386df9"/></linearGradient>
<linearGradient id="g77" gradientUnits="userSpaceOnUse" x1="229.7" x2="388.8" y1="0" y2="0" spreadMethod="reflect"><stop offset="0.000" stop-color="#8000ff"/><stop offset="0.053" stop-color="#8000ff"/><stop offset="0.105" stop-color="#8000ff"/><stop offset="0.158" stop-color="#8000ff"/><stop offset="0.211" stop-color="#7e03ff"/><stop offset="0.263" stop-color="#7c06ff"/><stop offset="0.316" stop-color="#7a09ff"/><stop offset="0.368" stop-color="#780dff"/><stop offset="0.421" stop-color="#7610ff"/><stop offset="0.474" stop-color="#7216ff"/><stop offset="0.526" stop-color="#7019ff"/><stop offset="0.579" stop-color="#6c1fff"/><stop offset="0.632" stop-color="#6826fe"/><stop offset="0.684" stop-color="#622ffe"/><stop offset="0.737" stop-color="#5e35fe"/><stop offset="0.789" stop-color="#583efd"/><stop offset="0.842" stop-color="#5247fc"/><stop offset="0.895" stop-color="#4c50fc"/><stop offset="0.947" stop-color="#445cfb"/><stop offset="1.000" stop-color="#3c68f9"/></linearGradient>
<linearGradient id="g78" gradientUnits="userSpaceOnUse" x1="229.7" x2="388.8" y1="0" y2="0" spreadMethod="reflect"><stop offset="0.000" stop-color="#8000ff"/><stop offset="0.053" stop-color="#8000ff"/><stop offset="0.105" stop-color="#8000ff"/><stop offset="0.158" stop-color="#8000ff"/><stop offset="0.211" stop-color="#7e03ff"/><stop offset="0.263" stop-color="#7c06ff"/><stop offset="0.316" stop-color="#7c06ff"/><stop offset="0.368" stop-color="#7a09ff"/><stop offset="0.421" stop-color="#7610ff"/><stop offset="0.474" stop-color="#7413ff"/><stop offset="0.526" stop-color="#7019ff"/><stop offset="0.579" stop-color="#6c1fff"/><stop offset="0.632" stop-color="#6826fe"/><stop offset="0.684" stop-color="#642cfe"/><stop offset="0.737" stop-color="#6032fe"/><stop offset="0.789" stop-color="#5a3bfd"/><stop offset="0.842" stop-color="#5444fd"/><stop offset="0.895" stop-color="#4e4dfc"/><stop offset="0.947" stop-color="#4856fb"/><stop offset="1.000" stop-color="#4062fa"/></linearGradient>
<linearGradient id="g79" gradientUnits="userSpaceOnUse" x1="229.7" x2="388.8" y1="0" y2="0" spreadMethod="reflect"><stop offset="0.000" stop-color="#8000ff"/><stop offset="0.053" stop-color="#8000ff"/><stop offset="0.105" stop-color="#8000ff"/><stop offset="0.158" stop-color="#8000ff"/><stop offset="0.211" stop-color="#7e03ff"/><stop offset="0.263" stop-color="#7e03ff"/><stop offset="0.316" stop-color="#7c06ff"/><stop offset="0.368" stop-color="#7a09ff"/><stop offset="0.421" stop-color="#780dff"/><stop offset="0.474" stop-color="#7413ff"/><stop offset="0.526" stop-color="#7216ff"/><stop offset="0.579" stop-color="#6e1cff"/><stop offset="0.632" stop-color="#6a22fe"/><stop offset="0.684" stop-color="#6629fe"/><stop offset="0.737" stop-color="#622ffe"/><stop offset="0.789" stop-color="#5c38fd"/><stop offset="0.842" stop-color="#5641fd"/><stop offset="0.895" stop-color="#504afc"/><stop offset="0.947" stop-color="#4a53fb"/><stop offset="1.000" stop-color="#425ffa"/></linearGradient>
<linearGradient id="g80" gradientUnits="userSpaceOnUse" x1="229.7" x2="388.8" y1="0" y2="0" spreadMethod="reflect"><stop offset="0.000" stop-color="#8000ff"/><stop offset="0.053" stop-color="#8000ff"/><stop offset="0.105" stop-color="#8000ff"/><stop offset="0.158" stop-color="#8000ff"/><stop offset="0.211" stop-color="#7e03ff"/><stop offset="0.263" stop-color="#7e03ff"/><stop offset="0.316" stop-color="#7c06ff"/><stop offset="0.368" stop-color="#7a09ff"/><stop offset="0.421" stop-color="#780dff"/><stop offset="0.474" stop-color="#7610ff"/><stop offset="0.526" stop-color="#7216ff"/><stop offset="0.579" stop-color="#6e1cff"/><stop offset="0.632" stop-color="#6c1fff"/><stop offset="0.684" stop-color="#6826fe"/><stop offset="0.737" stop-color="#622ffe"/><stop offset="0.789" stop-color="#5e35fe"/><stop offset="0.842" stop-color="#583efd"/><stop offset="0.895" stop-color="#5444fd"/><stop offset="0.947" stop-color="#4c50fc"/><stop offset="1.000" stop-color="#4659fb"/></linearGradient>
<linearGradient id="g81" gradientUnits="userSpaceOnUse" x1="229.7" x2="388.8" y1="0" y2="0" spreadMethod="reflect"><stop offset="0.000" stop-color="#8000ff"/><stop offset="0.053" stop-color="#8000ff"/><stop offset="0.105" stop-color="#8000ff"/><stop offset="0.158" stop-color="#8000ff"/><stop offset="0.211" stop-color="#7e03ff"/><stop offset="0.263" stop-color="#7e03ff"/><stop offset="0.316" stop-color="#7c06ff"/><stop offset="0.368" stop-color="#7a09ff"/><stop offset="0.421" stop-color="#780dff"/><stop offset="0.474" stop-color="#7610ff"/><stop offset="0.526" stop-color="#7413ff"/><stop offset="0.579" stop-color="#7019ff"/><stop offset="0.632" stop-color="#6c1fff"/><stop offset="0.684" stop-color="#6826fe"/><stop offset="0.737" stop-color="#642cfe"/><stop offset="0.789" stop-color="#6032fe"/><stop offset="0.842" stop-color="#5c38fd"/><stop offset="0.895" stop-color="#5641fd"/><stop offset="0.947" stop-color="#504afc"/><stop offset="1.000" stop-color="#4a53fb"/></linearGradient>
<linearGradient id="g82" gradientUnits="userSpaceOnUse" x1="229.7" x2="388.8" y1="0" y2="0" spreadMethod="reflect"><stop offset="0.000" stop-color="#8000ff"/><stop offset="0.053" stop-color="#8000ff"/><stop offset="0.105" stop-color="#8000ff"/><stop offset="0.158" stop-color="#8000ff"/><stop offset="0.211" stop-color="#7e03ff"/><stop offset="0.263" stop-color="#7e03ff"/><stop offset="0.316" stop-color="#7c06ff"/><stop offset="0.368" stop-color="#7a09ff"/><stop offset="0.421" stop-color="#780dff"/><stop offset="0.474" stop-color="#7610ff"/><stop offset="0.526" stop-color="#7413ff"/><stop offset="0.579" stop-color="#7019ff"/><stop offset="0.632" stop-color="#6e1cff"/><stop offset="0.684" stop-color="#6a22fe"/><stop offset="0.737" stop-color="#6629fe"/><stop offset="0.789" stop-color="#622ffe"/><stop offset="0.842" stop-color="#5e35fe"/><stop offset="0.895" stop-color="#583efd"/><stop offset="0.947" stop-color="#5247fc"/><stop offset="1.000" stop-color="#4c50fc"/></linearGradient>
<linearGradient id="g83" gradientUnits="userSpaceOnUse" x1="229.7" x2="388.8" y1="0" y2="0" spreadMethod="reflect"><stop offset="0.000" stop-color="#8000ff"/><stop offset="0.053" stop-color="#8000ff"/><stop offset="0.105" stop-color="#8000ff"/><stop offset="0.158" stop-color="#8000ff"/><stop offset="0.211" stop-color="#8000ff"/><stop offset="0.263" stop-color="#7e03ff"/><stop offset="0.316" stop-color="#7c06ff"/><stop offset="0.368" stop-color="#7c06ff"/><stop offset="0.421" stop-color="#7a09ff"/><stop offset="0.474" stop-color="#780dff"/><stop offset="0.526" stop-color="#7413ff"/><stop offset="0.579" stop-color="#7216ff"/><stop offset="0.632" stop-color="#7019ff"/><stop offset="0.684" stop-color="#6c1fff"/><stop offset="0.737" stop-color="#6826fe"/><stop offset="0.789" stop-color="#642cfe"/><stop offset="0.842" stop-color="#6032fe"/><stop offset="0.895" stop-color="#5a3bfd"/><stop offset="0.947" stop-color="#5641fd"/><stop offset="1.000" stop-color="#504afc"/></linearGradient>
<linearGradient id="g84" gradientUnits="userSpaceOnUse" x1="229.7" x2="388.8" y1="0" y2="0" spreadMethod="reflect"><stop offset="0.000" stop-color="#8000ff"/><stop offset="0.053" stop-color="#8000ff"/><stop offset="0.105" stop-color="#8000ff"/><stop offset="0.158" stop-color="#8000ff"/><stop offset="0.211" stop-color="#8000ff"/><stop offset="0.263" stop-color="#7e03ff"/><stop offset="0.316" stop-color="#7c06ff"/><stop offset="0.368" stop-color="#7c06ff"/><stop offset="0.421" stop-color="#7a09ff"/><stop offset="0.474" stop-color="#780dff"/><stop offset="0.526" stop-color="#7610ff"/><stop offset="0.579" stop-color="#7413ff"/><stop offset="0.632" stop-color="#7019ff"/><stop offset="0.684" stop-color="#6e1cff"/><stop offset="0.737" stop-color="#6a22fe"/><stop offset="0.789" stop-color="#6629fe"/><stop offset="0.842" stop-color="#622ffe"/><stop offset="0.895" stop-color="#5e35fe"/><stop offset="0.947" stop-color="#583efd"/><stop offset="1.000" stop-color="#5444fd"/></linearGradient>
<linearGradient id="g85" gradientUnits="userSpaceOnUse" x1="229.7" x2="388.8" y1="0" y2="0" spreadMethod="reflect"><stop offset="0.000" stop-color="#8000ff"/><stop offset="0.053" stop-color="#8000ff"/><stop offset="0.105" stop-color="#8000ff"/><stop offset="0.158" stop-color="#8000ff"/><stop offset="0.211" stop-color="#8000ff"/><stop offset="0.263" stop-color="#7e03ff"/><stop offset="0.316" stop-color="#7e03ff"/><stop offset="0.368" stop-color="#7c06ff"/><stop offset="0.421" stop-color="#7a09ff"/><stop offset="0.474" stop-color="#780dff"/><stop offset="0.526" stop-color="#7610ff"/><stop offset="0.579" stop-color="#7413ff"/><stop offset="0.632" stop-color="#7216ff"/><stop offset="0.684" stop-color="#6e1cff"/><stop offset="0.737" stop-color="#6c1fff"/><stop offset="0.789" stop-color="#6826fe"/><stop offset="0.842" stop-color="#642cfe"/><stop offset="0.895" stop-color="#6032fe"/><stop offset="0.947" stop-color="#5c38fd"/><stop offset="1.000" stop-color="#5641fd"/></linearGradient>
<linearGradient id="g86" gradientUnits="userSpaceOnUse" x1="229.7" x2="388.8" y1="0" y2="0" spreadMethod="reflect"><stop offset="0.000" stop-color="#8000ff"/><stop offset="0.053" stop-color="#8000ff"/><stop offset="0.105" stop-color="#8000ff"/><stop offset="0.158" stop-color="#8000ff"/><stop offset="0.211" stop-color="#8000ff"/><stop offset="0.263" stop-color="#7e03ff"/><stop offset="0.316" stop-color="#7e03ff"/><stop offset="0.368" stop-color="#7c06ff"/><stop offset="0.421" stop-color="#7a09ff"/><stop offset="0.474" stop-color="#7a09ff"/><stop offset="0.526" stop-color="#780dff"/><stop offset="0.579" stop-color="#7610ff"/><stop offset="0.632" stop-color="#7216ff"/><stop offset="0.684" stop-color="#7019ff"/><stop offset="0.737" stop-color="#6e1cff"/><stop offset="0.789" stop-color="#6a22fe"/><stop offset="0.842" stop-color="#6629fe"/><stop offset="0.895" stop-color="#622ffe"/><stop offset="0.947" stop-color="#5e35fe"/><stop offset="1.000" stop-color="#5a3bfd"/></linearGradient>
<linearGradient id="g87" gradientUnits="userSpaceOnUse" x1="229.7" x2="388.8" y1="0" y2="0" spreadMethod="reflect"><stop offset="0.000" stop-color="#8000ff"/><stop offset="0.053" stop-color="#8000ff"/><stop offset="0.105" stop-color="#8000ff"/><stop offset="0.158" stop-color="#8000ff"/><stop offset="0.211" stop-color="#8000ff"/><stop offset="0.263" stop-color="#7e03ff"/><stop offset="0.316" stop-color="#7e03ff"/><stop offset="0.368" stop-color="#7c06ff"/><stop offset="0.421" stop-color="#7c06ff"/><stop offset="0.474" stop-color="#7a09ff"/><stop offset="0.526" stop-color="#780dff"/><stop offset="0.579" stop-color="#7610ff"/><stop offset="0.632" stop-color="#7413ff"/><stop offset="0.684" stop-color="#7216ff"/><stop offset="0.737" stop-color="#6e1cff"/><stop offset="0.789" stop-color="#6c1fff"/><stop offset="0.842" stop-color="#6826fe"/><stop offset="0.895" stop-color="#6629fe"/><stop offset="0.947" stop-color="#622ffe"/><stop offset="1.000" stop-color="#5e35fe"/></linearGradient>
<linearGradient id="g88" gradientUnits="userSpaceOnUse" x1="229.7" x2="388.8" y1="0" y2="0" spreadMethod="reflect"><stop offset="0.000" stop-color="#8000ff"/><stop offset="0.053" stop-color="#8000ff"/><stop offset="0.105" stop-color="#8000ff"/><stop offset="0.158" stop-color="#8000ff"/><stop offset="0.211" stop-color="#8000ff"/><stop offset="0.263" stop-color="#8000ff"/><stop offset="0.316" stop-color="#7e03ff"/><stop offset="0.368" stop-color="#7e03ff"/><stop offset="0.421" stop-color="#7c06ff"/><stop offset="0.474" stop-color="#7a09ff"/><stop offset="0.526" stop-color="#780dff"/><stop offset="0.579" stop-color="#7610ff"/><stop offset="0.632" stop-color="#7413ff"/><stop offset="0.684" stop-color="#7216ff"/><stop offset="0.737" stop-color="#7019ff"/><stop offset="0.789" stop-color="#6e1cff"/><stop offset="0.842" stop-color="#6a22fe"/><stop offset="0.895" stop-color="#6826fe"/><stop offset="0.947" stop-color="#642cfe"/><stop offset="1.000" stop-color="#6032fe"/></linearGradient>
<linearGradient id="g89" gradientUnits="userSpaceOnUse" x1="229.7" x2="388.8" y1="0" y2="0" spreadMethod="reflect"><stop offset="0.000" stop-color="#8000ff"/><stop offset="0.053" stop-color="#8000ff"/><stop offset="0.105" stop-color="#8000ff"/><stop offset="0.158" stop-color="#8000ff"/><stop offset="0.211" stop-color="#8000ff"/><stop offset="0.263" stop-color="#8000ff"/><stop offset="0.316" stop-color="#7e03ff"/><stop offset="0.368" stop-color="#7e03ff"/><stop offset="0.421" stop-color="#7c06ff"/><stop offset="0.474" stop-color="#7c06ff"/><stop offset="0.526" stop-color="#7a09ff"/><stop offset="0.579" stop-color="#780dff"/><stop offset="0.632" stop-color="#7610ff"/><stop offset="0.684" stop-color="#7413ff"/><stop offset="0.737" stop-color="#7216ff"/><stop offset="0.789" stop-color="#7019ff"/><stop offset="0.842" stop-color="#6c1fff"/><stop offset="0.895" stop-color="#6a22fe"/><stop offset="0.947" stop-color="#6629fe"/><stop offset="1.000" stop-color="#642cfe"/></linearGradient>
<linearGradient id="g90" gradientUnits="userSpaceOnUse" x1="229.7" x2="388.8" y1="0" y2="0" spreadMethod="reflect"><stop offset="0.000" stop-color="#8000ff"/><stop offset="0.053" stop-color="#8000ff"/><stop offset="0.105" stop-color="#8000ff"/><stop offset="0.158" stop-color="#8000ff"/><stop offset="0.211" stop-color="#8000ff"/><stop offset="0.263" stop-color="#8000ff"/><stop offset="0.316" stop-color="#7e03ff"/><stop offset="0.368" stop-color="#7e03ff"/><stop offset="0.421" stop-color="#7c06ff"/><stop offset="0.474" stop-color="#7c06ff"/><stop offset="0.526" stop-color="#7a09ff"/><stop offset="0.579" stop-color="#780dff"/><stop offset="0.632" stop-color="#780dff"/><stop offset="0.684" stop-color="#7610ff"/><stop offset="0.737" stop-color="#7413ff"/><stop offset="0.789" stop-color="#7216ff"/><stop offset="0.842" stop-color="#6e1cff"/><stop offset="0.895" stop-color="#6c1fff"/><stop offset="0.947" stop-color="#6a22fe"/><stop offset="1.000" stop-color="#6629fe"/></linearGradient>
<linearGradient id="g91" gradientUnits="userSpaceOnUse" x1="229.7" x2="388.8" y1="0" y2="0" spreadMethod="reflect"><stop offset="0.000" stop-color="#8000ff"/><stop offset="0.053" stop-color="#8000ff"/><stop offset="0.105" stop-color="#8000ff"/><stop offset="0.158" stop-color="#8000ff"/><stop offset="0.211" stop-color="#8000ff"/><stop offset="0.263" stop-color="#8000ff"/><stop offset="0.316" stop-color="#7e03ff"/><stop offset="0.368" stop-color="#7e03ff"/><stop offset="0.421" stop-color="#7e03ff"/><stop offset="0.474" stop-color="#7c06ff"/><stop offset="0.526" stop-color="#7c06ff"/><stop offset="0.579" stop-color="#7a09ff"/><stop offset="0.632" stop-color="#780dff"/><stop offset="0.684" stop-color="#7610ff"/><stop offset="0.737" stop-color="#7413ff"/><stop offset="0.789" stop-color="#7216ff"/><stop offset="0.842" stop-color="#7019ff"/><stop offset="0.895" stop-color="#6e1cff"/><stop offset="0.947" stop-color="#6c1fff"/><stop offset="1.000" stop-color="#6a22fe"/></linearGradient>
<linearGradient id="g92" gradientUnits="userSpaceOnUse" x1="229.7" x2="388.8" y1="0" y2="0" spreadMethod="reflect"><stop offset="0.000" stop-color="#8000ff"/><stop offset="0.053" stop-color="#8000ff"/><stop offset="0.105" stop-color="#8000ff"/><stop offset="0.158" stop-color="#8000ff"/><stop offset="0.211" stop-color="#8000ff"/><stop offset="0.263" stop-color="#8000ff"/><stop offset="0.316" stop-color="#8000ff"/><stop offset="0.368" stop-color="#7e03ff"/><stop offset="0.421" stop-color="#7e03ff"/><stop offset="0.474" stop-color="#7c06ff"/><stop offset="0.526" stop-color="#7c06ff"/><stop offset="0.579" stop-color="#7a09ff"/><stop offset="0.632" stop-color="#7a09ff"/><stop offset="0.684" stop-color="#780dff"/><stop offset="0.737" stop-color="#7610ff"/><stop offset="0.789" stop-color="#7413ff"/><stop offset="0.842" stop-color="#7216ff"/><stop offset="0.895" stop-color="#7019ff"/><stop offset="0.947" stop-color="#6e1cff"/><stop offset="1.000" stop-color="#6c1fff"/></linearGradient>
<linearGradient id="g93" gradientUnits="userSpaceOnUse" x1="229.7" x2="388.8" y1="0" y2="0" spreadMethod="reflect"><stop offset="0.000" stop-color="#8000ff"/><stop offset="0.053" stop-color="#8000ff"/><stop offset="0.105" stop-color="#8000ff"/><stop offset="0.158" stop-color="#8000ff"/><stop offset="0.211" stop-color="#8000ff"/><stop offset="0.263" stop-color="#8000ff"/><stop offset="0.316" stop-color="#8000ff"/><stop offset="0.368" stop-color="#7e03ff"/><stop offset="0.421" stop-color="#7e03ff"/><stop offset="0.474" stop-color="#7e03ff"/><stop offset="0.526" stop-color="#7c06ff"/><stop offset="0.579" stop-color="#7c06ff"/><stop offset="0.632" stop-color="#7a09ff"/><stop offset="0.684" stop-color="#7a09ff"/><stop offset="0.737" stop-color="#780dff"/><stop offset="0.789" stop-color="#7610ff"/><stop offset="0.842" stop-color="#7413ff"/><stop offset="0.895" stop-color="#7216ff"/><stop offset="0.947" stop-color="#7019ff"/><stop offset="1.000" stop-color="#6e1cff"/></linearGradient>
<linearGradient id="g94" gradientUnits="userSpaceOnUse" x1="229.7" x2="388.8" y1="0" y2="0" spreadMethod="reflect"><stop offset="0.000" stop-color="#8000ff"/><stop offset="0.053" stop-color="#8000ff"/><stop offset="0.105" stop-color="#8000ff"/><stop offset="0.158" stop-color="#8000ff"/><stop offset="0.211" stop-color="#8000ff"/><stop offset="0.263" stop-color="#8000ff"/><stop offset="0.316" stop-color="#8000ff"/><stop offset="0.368" stop-color="#8000ff"/><stop offset="0.421" stop-color="#7e03ff"/><stop offset="0.474" stop-color="#7e03ff"/><stop offset="0.526" stop-color="#7e03ff"/><stop offset="0.579" stop-color="#7c06ff"/><stop offset="0.632" stop-color="#7c06ff"/><stop offset="0.684" stop-color="#7a09ff"/><stop offset="0.737" stop-color="#780dff"/><stop offset="0.789" stop-color="#780dff"/><stop offset="0.842" stop-color="#7610ff"/><stop offset="0.895" stop-color="#7413ff"/><stop offset="0.947" stop-color="#7413ff"/><stop offset="1.000" stop-color="#7216ff"/></linearGradient>
<linearGradient id="g95" gradientUnits="userSpaceOnUse" x1="229.7" x2="388.8" y1="0" y2="0" spreadMethod="reflect"><stop offset="0.000" stop-color="#8000ff"/><stop offset="0.053" stop-color="#8000ff"/><stop offset="0.105" stop-color="#8000ff"/><stop offset="0.158" stop-color="#8000ff"/><stop offset="0.211" stop-color="#8000ff"/><stop offset="0.263" stop-color="#8000ff"/><stop offset="0.316" stop-color="#8000ff"/><stop offset="0.368" stop-color="#8000ff"/><stop offset="0.421" stop-color="#7e03ff"/><stop offset="0.474" stop-color="#7e03ff"/><stop offset="0.526" stop-color="#7e03ff"/><stop offset="0.579" stop-color="#7c06ff"/><stop offset="0.632" stop-color="#7c06ff"/><stop offset="0.684" stop-color="#7c06ff"/><stop offset="0.737" stop-color="#7a09ff"/><stop offset="0.789" stop-color="#7a09ff"/><stop offset="0.842" stop-color="#780dff"/><stop offset="0.895" stop-color="#7610ff"/><stop offset="0.947" stop-color="#7610ff"/><stop offset="1.000" stop-color="#7413ff"/></linearGradient>
<linearGradient id="g96" gradientUnits="userSpaceOnUse" x1="229.7" x2="388.8" y1="0" y2="0" spreadMethod="reflect"><stop offset="0.000" stop-color="#8000ff"/><stop offset="0.053" stop-color="#8000ff"/><stop offset="0.105" stop-color="#8000ff"/><stop offset="0.158" stop-color="#8000ff"/><stop offset="0.211" stop-color="#8000ff"/><stop offset="0.263" stop-color="#8000ff"/><stop offset="0.316" stop-color="#8000ff"/><stop offset="0.368" stop-color="#8000ff"/><stop offset="0.421" stop-color="#8000ff"/><stop offset="0.474" stop-color="#7e03ff"/><stop offset="0.526" stop-color="#7e03ff"/><stop offset="0.579" stop-color="#7e03ff"/><stop offset="0.632" stop-color="#7c06ff"/><stop offset="0.684" stop-color="#7c06ff"/><stop offset="0.737" stop-color="#7c06ff"/><stop offset="0.789" stop-color="#7a09ff"/><stop offset="0.842" stop-color="#7a09ff"/><stop offset="0.895" stop-color="#780dff"/><stop offset="0.947" stop-color="#780dff"/><stop offset="1.000" stop-color="#7610ff"/></linearGradient>
<linearGradient id="g97" gradientUnits="userSpaceOnUse" x1="229.7" x2="388.8" y1="0" y2="0" spreadMethod="reflect"><stop offset="0.000" stop-color="#8000ff"/><stop offset="0.053" stop-color="#8000ff"/><stop offset="0.105" stop-color="#8000ff"/><stop offset="0.158" stop-color="#8000ff"/><stop offset="0.211" stop-color="#8000ff"/><stop offset="0.263" stop-color="#8000ff"/><stop offset="0.316" stop-color="#8000ff"/><stop offset="0.368" stop-color="#8000ff"/><stop offset="0.421" stop-color="#8000ff"/><stop offset="0.474" stop-color="#8000ff"/><stop offset="0.526" stop-color="#7e03ff"/><stop offset="0.579" stop-color="#7e03ff"/><stop offset="0.632" stop-color="#7e03ff"/><stop offset="0.684" stop-color="#7e03ff"/><stop offset="0.737" stop-color="#7c06ff"/><stop offset="0.789" stop-color="#7c06ff"/><stop offset="0.842" stop-color="#7a09ff"/><stop offset="0.895" stop-color="#7a09ff"/><stop offset="0.947" stop-color="#780dff"/><stop offset="1.000" stop-color="#780dff"/></linearGradient>
<linearGradient id="g98" gradientUnits="userSpaceOnUse" x1="229.7" x2="388.8" y1="0" y2="0" spreadMethod="reflect"><stop offset="0.000" stop-color="#8000ff"/><stop offset="0.053" stop-color="#8000ff"/><stop offset="0.105" stop-color="#8000ff"/><stop offset="0.158" stop-color="#8000ff"/><stop offset="0.211" stop-color="#8000ff"/><stop offset="0.263" stop-color="#8000ff"/><stop offset="0.316" stop-color="#8000ff"/><stop offset="0.368" stop-color="#8000ff"/><stop offset="0.421" stop-color="#8000ff"/><stop offset="0.474" stop-color="#8000ff"/><stop offset="0.526" stop-color="#8000ff"/><stop offset="0.579" stop-color="#7e03ff"/><stop offset="0.632" stop-color="#7e03ff"/><stop offset="0.684" stop-color="#7e03ff"/><stop offset="0.737" stop-color="#7e03ff"/><stop offset="0.789" stop-color="#7c06ff"/><stop offset="0.842" stop-color="#7c06ff"/><stop offset="0.895" stop-color="#7c06ff"/><stop offset="0.947" stop-color="#7a09ff"/><stop offset="1.000" stop-color="#7a09ff"/></linearGradient>
<linearGradient id="g99" gradientUnits="userSpaceOnUse" x1="229.7" x2="388.8" y1="0" y2="0" spreadMethod="reflect"><stop offset="0.000" stop-color="#8000ff"/><stop offset="0.053" stop-color="#8000ff"/><stop offset="0.105" stop-color="#8000ff"/><stop offset="0.158" stop-color="#8000ff"/><stop offset="0.211" stop-color="#8000ff"/><stop offset="0.263" stop-color="#8000ff"/><stop offset="0.316" stop-color="#8000ff"/><stop offset="0.368" stop-color="#8000ff"/><stop offset="0.421" stop-color="#8000ff"/><stop offset="0.474" stop-color="#8000ff"/><stop offset="0.526" stop-color="#8000ff"/><stop offset="0.579" stop-color="#8000ff"/><stop offset="0.632" stop-color="#7e03ff"/><stop offset="0.684" stop-color="#7e03ff"/><stop offset="0.737" stop-color="#7e03ff"/><stop offset="0.789" stop-color="#7e03ff"/><stop offset="0.842" stop-color="#7e03ff"/><stop offset="0.895" stop-color="#7c06ff"/><stop offset="0.947" stop-color="#7c06ff"/><stop offset="1.000" stop-color="#7c06ff"/></linearGradient>
<linearGradient id="g100" gradientUnits="userSpaceOnUse" x1="229.7" x2="388.8" y1="0" y2="0" spreadMethod="reflect"><stop offset="0.000" stop-color="#8000ff"/><stop offset="0.053" stop-color="#8000ff"/><stop offset="0.105" stop-color="#8000ff"/><stop offset="0.158" stop-color="#8000ff"/><stop offset="0.211" stop-color="#8000ff"/><stop offset="0.263" stop-color="#8000ff"/><stop offset="0.316" stop-color="#8000ff"/><stop offset="0.368" stop-color="#8000ff"/><stop offset="0.421" stop-color="#8000ff"/><stop offset="0.474" stop-color="#8000ff"/><stop offset="0.526" stop-color="#8000ff"/><stop offset="0.579" stop-color="#8000ff"/><stop offset="0.632" stop-color="#8000ff"/><stop offset="0.684" stop-color="#8000ff"/><stop offset="0.737" stop-color="#7e03ff"/><stop offset="0.789" stop-color="#7e03ff"/><stop offset="0.842" stop-color="#7e03ff"/><stop offset="0.895" stop-color="#7e03ff"/><stop offset="0.947" stop-color="#7e03ff"/><stop offset="1.000" stop-color="#7c06ff"/></linearGradient>
<linearGradient id="g101" gradientUnits="userSpaceOnUse" x1="229.7" x2="388.8" y1="0" y2="0" spreadMethod="reflect"><stop offset="0.000" stop-color="#8000ff"/><stop offset="0.053" stop-color="#8000ff"/><stop offset="0.105" stop-color="#8000ff"/><stop offset="0.158" stop-color="#8000ff"/><stop offset="0.211" stop-color="#8000ff"/><stop offset="0.263" stop-color="#8000ff"/><stop offset="0.316" stop-color="#8000ff"/><stop offset="0.368" stop-color="#8000ff"/><stop offset="0.421" stop-color="#8000ff"/><stop offset="0.474" stop-color="#8000ff"/><stop offset="0.526" stop-color="#8000ff"/><stop offset="0.579" stop-color="#8000ff"/><stop offset="0.632" stop-color="#8000ff"/><stop offset="0.684" stop-color="#8000ff"/><stop offset="0.737" stop-color="#8000ff"/><stop offset="0.789" stop-color="#8000ff"/><stop offset="0.842" stop-color="#7e03ff"/><stop offset="0.895" stop-color="#7e03ff"/><stop offset="0.947" stop-color="#7e03ff"/><stop offset="1.000" stop-color="#7e03ff"/></linearGradient>
<linearGradient id="g102" gradientUnits="userSpaceOnUse" x1="229.7" x2="388.8" y1="0" y2="0" spreadMethod="reflect"><stop offset="0.000" stop-color="#8000ff"/><stop offset="0.053" stop-color="#8000ff"/><stop offset="0.105" stop-color="#8000ff"/><stop offset="0.158" stop-color="#8000ff"/><stop offset="0.211" stop-color="#8000ff"/><stop offset="0.263" stop-color="#8000ff"/><stop offset="0.316" stop-color="#8000ff"/><stop offset="0.368" stop-color="#8000ff"/><stop offset="0.421" stop-color="#8000ff"/><stop offset="0.474" stop-color="#8000ff"/><stop offset="0.526" stop-color="#8000ff"/><stop offset="0.579" stop-color="#8000ff"/><stop offset="0.632" stop-color="#8000ff"/><stop offset="0.684" stop-color="#8000ff"/><stop offset="0.737" stop-color="#8000ff"/><stop offset="0.789" stop-color="#8000ff"/><stop offset="0.842" stop-color="#8000ff"/><stop offset="0.895" stop-color="#8000ff"/><stop offset="0.947" stop-color="#8000ff"/><stop offset="1.000" stop-color="#8000ff"/></linearGradient>
<linearGradient id="g103" gradientUnits="userSpaceOnUse" x1="229.7" x2="388.8" y1="0" y2="0" spreadMethod="reflect"><stop offset="0.000" stop-color="#8000ff"/><stop offset="0.053" stop-color="#8000ff"/><stop offset="0.105" stop-color="#8000ff"/><stop offset="0.158" stop-color="#8000ff"/><stop offset="0.211" stop-color="#8000ff"/><stop offset="0.263" stop-color="#8000ff"/><stop offset="0.316" stop-color="#8000ff"/><stop offset="0.368" stop-color="#8000ff"/><stop offset="0.421" stop-color="#8000ff"/><stop offset="0.474" stop-color="#8000ff"/><stop offset="0.526" stop-color="#8000ff"/><stop offset="0.579" stop-color="#8000ff"/><stop offset="0.632" stop-color="#8000ff"/><stop offset="0.684" stop-color="#8000ff"/><stop offset="0.737" stop-color="#8000ff"/><stop offset="0.789" stop-color="#8000ff"/><stop offset="0.842" stop-color="#8000ff"/><stop offset="0.895" stop-color="#8000ff"/><stop offset="0.947" stop-color="#8000ff"/><stop offset="1.000" stop-color="#8000ff"/></linearGradient>
<linearGradient id="g104" gradientUnits="userSpaceOnUse" x1="229.7" x2="388.8" y1="0" y2="0" spreadMethod="reflect"><stop offset="0.000" stop-color="#8000ff"/><stop offset="0.053" stop-color="#8000ff"/><stop offset="0.105" stop-color="#8000ff"/><stop offset="0.158" stop-color="#8000ff"/><stop offset="0.211" stop-color="#8000ff"/><stop offset="0.263" stop-color="#8000ff"/><stop offset="0.316" stop-color="#8000ff"/><stop offset="0.368" stop-color="#8000ff"/><stop offset="0.421" stop-color="#8000ff"/><stop offset="0.474" stop-color="#8000ff"/><stop offset="0.526" stop-color="#8000ff"/><stop offset="0.579" stop-color="#8000ff"/><stop offset="0.632" stop-color="#8000ff"/><stop offset="0.684" stop-color="#8000ff"/><stop offset="0.737" stop-color="#8000ff"/><stop offset="0.789" stop-color="#8000ff"/><stop offset="0.842" stop-color="#8000ff"/><stop offset="0.895" stop-color="#8000ff"/><stop offset="0.947" stop-color="#8000ff"/><stop offset="1.000" stop-color="#8000ff"/></linearGradient>
<linearGradient id="g105" gradientUnits="userSpaceOnUse" x1="229.7" x2="388.8" y1="0" y2="0" spreadMethod="reflect"><stop offset="0.000" stop-color="#8000ff"/><stop offset="0.053" stop-color="#8000ff"/><stop offset="0.105" stop-color="#8000ff"/><stop offset="0.158" stop-color="#8000ff"/><stop offset="0.211" stop-color="#8000ff"/><stop offset="0.263" stop-color="#8000ff"/><stop offset="0.316" stop-color="#8000ff"/><stop offset="0.368" stop-color="#8000ff"/><stop offset="0.421" stop-color="#8000ff"/><stop offset="0.474" stop-color="#8000ff"/><stop offset="0.526" stop-color="#8000ff"/><stop offset="0.579" stop-color="#8000ff"/><stop offset="0.632" stop-color="#8000ff"/><stop offset="0.684" stop-color="#8000ff"/><stop offset="0.737" stop-color="#8000ff"/><stop offset="0.789" stop-color="#8000ff"/><stop offset="0.842" stop-color="#8000ff"/><stop offset="0.895" stop-color="#8000ff"/><stop offset="0.947" stop-color="#8000ff"/><stop offset="1.000" stop-color="#8000ff"/></linearGradient>
<linearGradient id="g106" gradientUnits="userSpaceOnUse" x1="229.7" x2="388.8" y1="0" y2="0" spreadMethod="reflect"><stop offset="0.000" stop-color="#8000ff"/><stop offset="0.053" stop-color="#8000ff"/><stop offset="0.105" stop-color="#8000ff"/><stop offset="0.158" stop-color="#8000ff"/><stop offset="0.211" stop-color="#8000ff"/><stop offset="0.263" stop-color="#8000ff"/><stop offset="0.316" stop-color="#8000ff"/><stop offset="0.368" stop-color="#8000ff"/><stop offset="0.421" stop-color="#8000ff"/><stop offset="0.474" stop-color="#8000ff"/><stop offset="0.526" stop-color="#8000ff"/><stop offset="0.579" stop-color="#8000ff"/><stop offset="0.632" stop-color="#8000ff"/><stop offset="0.684" stop-color="#8000ff"/><stop offset="0.737" stop-color="#8000ff"/><stop offset="0.789" stop-color="#8000ff"/><stop offset="0.842" stop-color="#8000ff"/><stop offset="0.895" stop-color="#8000ff"/><stop offset="0.947" stop-color="#8000ff"/><stop offset="1.000" stop-color="#8000ff"/></linearGradient>
<linearGradient id="g107" gradientUnits="userSpaceOnUse" x1="229.7" x2="388.8" y1="0" y2="0" spreadMethod="reflect"><stop offset="0.000" stop-color="#8000ff"/><stop offset="0.053" stop-color="#8000ff"/><stop offset="0.105" stop-color="#8000ff"/><stop offset="0.158" stop-color="#8000ff"/><stop offset="0.211" stop-color="#8000ff"/><stop offset="0.263" stop-color="#8000ff"/><stop offset="0.316" stop-color="#8000ff"/><stop offset="0.368" stop-color="#8000ff"/><stop offset="0.421" stop-color="#8000ff"/><stop offset="0.474" stop-color="#8000ff"/><stop offset="0.526" stop-color="#8000ff"/><stop offset="0.579" stop-color="#8000ff"/><stop offset="0.632" stop-color="#8000ff"/><stop offset="0.684" stop-color="#8000ff"/><stop offset="0.737" stop-color="#8000ff"/><stop offset="0.789" stop-color="#8000ff"/><stop offset="0.842" stop-color="#8000ff"/><stop offset="0.895" stop-color="#8000ff"/><stop offset="0.947" stop-color="#8000ff"/><stop offset="1.000" stop-color="#8000ff"/></linearGradient>
<linearGradient id="g108" gradientUnits="userSpaceOnUse" x1="229.7" x2="388.8" y1="0" y2="0" spreadMethod="reflect"><stop offset="0.000" stop-color="#8000ff"/><stop offset="0.053" stop-color="#8000ff"/><stop offset="0.105" stop-color="#8000ff"/><stop offset="0.158" stop-color="#8000ff"/><stop offset="0.211" stop-color="#8000ff"/><stop offset="0.263" stop-color="#8000ff"/><stop offset="0.316" stop-color="#8000ff"/><stop offset="0.368" stop-color="#8000ff"/><stop offset="0.421" stop-color="#8000ff"/><stop offset="0.474" stop-color="#8000ff"/><stop offset="0.526" stop-color="#8000ff"/><stop offset="0.579" stop-color="#8000ff"/><stop offset="0.632" stop-color="#8000ff"/><stop offset="0.684" stop-color="#8000ff"/><stop offset="0.737" stop-color="#8000ff"/><stop offset="0.789" stop-color="#8000ff"/><stop offset="0.842" stop-color="#8000ff"/><stop offset="0.895" stop-color="#8000ff"/><stop offset="0.947" stop-color="#8000ff"/><stop offset="1.000" stop-color="#8000ff"/></linearGradient>
<linearGradient id="g109" gradientUnits="userSpaceOnUse" x1="229.7" x2="388.8" y1="0" y2="0" spreadMethod="reflect"><stop offset="0.000" stop-color="#8000ff"/><stop offset="0.053" stop-color="#8000ff"/><stop offset="0.105" stop-color="#8000ff"/><stop offset="0.158" stop-color="#8000ff"/><stop offset="0.211" stop-color="#8000ff"/><stop offset="0.263" stop-color="#8000ff"/><stop offset="0.316" stop-color="#8000ff"/><stop offset="0.368" stop-color="#8000ff"/><stop offset="0.421" stop-color="#8000ff"/><stop offset="0.474" stop-color="#8000ff"/><stop offset="0.526" stop-color="#8000ff"/><stop offset="0.579" stop-color="#8000ff"/><stop offset="0.632" stop-color="#8000ff"/><stop offset="0.684" stop-color="#8000ff"/><stop offset="0.737" stop-color="#8000ff"/><stop offset="0.789" stop-color="#8000ff"/><stop offset="0.842" stop-color="#8000ff"/><stop offset="0.895" stop-color="#8000ff"/><stop offset="0.947" stop-color="#8000ff"/><stop offset="1.000" stop-color="#8000ff"/></linearGradient>
<linearGradient id="g110" gradientUnits="userSpaceOnUse" x1="229.7" x2="388.8" y1="0" y2="0" spreadMethod="reflect"><stop offset="0.000" stop-color="#8000ff"/><stop offset="0.053" stop-color="#8000ff"/><stop offset="0.105" stop-color="#8000ff"/><stop offset="0.158" stop-color="#8000ff"/><stop offset="0.211" stop-color="#8000ff"/><stop offset="0.263" stop-color="#8000ff"/><stop offset="0.316" stop-color="#8000ff"/><stop offset="0.368" stop-color="#8000ff"/><stop offset="0.421" stop-color="#8000ff"/><stop offset="0.474" stop-color="#8000ff"/><stop offset="0.526" stop-color="#8000ff"/><stop offset="0.579" stop-color="#8000ff"/><stop offset="0.632" stop-color="#8000ff"/><stop offset="0.684" stop-color="#8000ff"/><stop offset="0.737" stop-color="#8000ff"/><stop offset="0.789" stop-color="#8000ff"/><stop offset="0.842" stop-color="#8000ff"/><stop offset="0.895" stop-color="#8000ff"/><stop offset="0.947" stop-color="#8000ff"/><stop offset="1.000" stop-color="#8000ff"/></linearGradient>
<linearGradient id="g111" gradientUnits="userSpaceOnUse" x1="229.7" x2="388.8" y1="0" y2="0" spreadMethod="reflect"><stop offset="0.000" stop-color="#8000ff"/><stop offset="0.053" stop-color="#8000ff"/><stop offset="0.105" stop-color="#8000ff"/><stop offset="0.158" stop-color="#8000ff"/><stop offset="0.211" stop-color="#8000ff"/><stop offset="0.263" stop-color="#8000ff"/><stop offset="0.316" stop-color="#8000ff"/><stop offset="0.368" stop-color="#8000ff"/><stop offset="0.421" stop-color="#8000ff"/><stop offset="0.474" stop-color="#8000ff"/><stop offset="0.526" stop-color="#8000ff"/><stop offset="0.579" stop-color="#8000ff"/><stop offset="0.632" stop-color="#8000ff"/><stop offset="0.684" stop-color="#8000ff"/><stop offset="0.737" stop-color="#8000ff"/><stop offset="0.789" stop-color="#8000ff"/><stop offset="0.842" stop-color="#8000ff"/><stop offset="0.895" stop-color="#8000ff"/><stop offset="0.947" stop-color="#8000ff"/><stop offset="1.000" stop-color="#8000ff"/></linearGradient>
<linearGradient id="g112" gradientUnits="userSpaceOnUse" x1="229.7" x2="388.8" y1="0" y2="0" spreadMethod="reflect"><stop offset="0.000" stop-color="#8000ff"/><stop offset="0.053" stop-color="#8000ff"/><stop offset="0.105" stop-color="#8000ff"/><stop offset="0.158" stop-color="#8000ff"/><stop offset="0.211" stop-color="#8000ff"/><stop offset="0.263" stop-color="#8000ff"/><stop offset="0.316" stop-color="#8000ff"/><stop offset="0.368" stop-color="#8000ff"/><stop offset="0.421" stop-color="#8000ff"/><stop offset="0.474" stop-color="#8000ff"/><stop offset="0.526" stop-color="#8000ff"/><stop offset="0.579" stop-color="#8000ff"/><stop offset="0.632" stop-color="#8000ff"/><stop offset="0.684" stop-color="#8000ff"/><stop offset="0.737" stop-color="#8000ff"/><stop offset="0.789" stop-color="#8000ff"/><stop offset="0.842" stop-color="#8000ff"/><stop offset="0.895" stop-color="#8000ff"/><stop offset="0.947" stop-color="#8000ff"/><stop offset="1.000" stop-color="#8000ff"/></linearGradient>
<linearGradient id="g113" gradientUnits="userSpaceOnUse" x1="229.7" x2="388.8" y1="0" y2="0" spreadMethod="reflect"><stop offset="0.000" stop-color="#8000ff"/><stop offset="0.053" stop-color="#8000ff"/><stop offset="0.105" stop-color="#8000ff"/><stop offset="0.158" stop-color="#8000ff"/><stop offset="0.211" stop-color="#8000ff"/><stop offset="0.263" stop-color="#8000ff"/><stop offset="0.316" stop-color="#8000ff"/><stop offset="0.368" stop-color="#8000ff"/><stop offset="0.421" stop-color="#8000ff"/><stop offset="0.474" stop-color="#8000ff"/><stop offset="0.526" stop-color="#8000ff"/><stop offset="0.579" stop-color="#8000ff"/><stop offset="0.632" stop-color="#8000ff"/><stop offset="0.684" stop-color="#8000ff"/><stop offset="0.737" stop-color="#8000ff"/><stop offset="0.789" stop-color="#8000ff"/><stop offset="0.842" stop-color="#8000ff"/><stop offset="0.895" stop-color="#8000ff"/><stop offset="0.947" stop-color="#8000ff"/><stop offset="1.000" stop-color="#8000ff"/></linearGradient>
<linearGradient id="g114" gradientUnits="userSpaceOnUse" x1="229.7" x2="388.8" y1="0" y2="0" spreadMethod="reflect"><stop offset="0.000" stop-color="#8000ff"/><stop offset="0.053" stop-color="#8000ff"/><stop offset="0.105" stop-color="#8000ff"/><stop offset="0.158" stop-color="#8000ff"/><stop offset="0.211" stop-color="#8000ff"/><stop offset="0.263" stop-color="#8000ff"/><stop offset="0.316" stop-color="#8000ff"/><stop offset="0.368" stop-color="#8000ff"/><stop offset="0.421" stop-color="#8000ff"/><stop offset="0.474" stop-color="#8000ff"/><stop offset="0.526" stop-color="#8000ff"/><stop offset="0.579" stop-color="#8000ff"/><stop offset="0.632" stop-color="#8000ff"/><stop offset="0.684" stop-color="#8000ff"/><stop offset="0.737" stop-color="#8000ff"/><stop offset="0.789" stop-color="#8000ff"/><stop offset="0.842" stop-color="#8000ff"/><stop offset="0.895" stop-color="#8000ff"/><stop offset="0.947" stop-color="#8000ff"/><stop offset="1.000" stop-color="#8000ff"/></linearGradient>
<linearGradient id="g115" gradientUnits="userSpaceOnUse" x1="229.7" x2="388.8" y1="0" y2="0" spreadMethod="reflect"><stop offset="0.000" stop-color="#8000ff"/><stop offset="0.053" stop-color="#8000ff"/><stop offset="0.105" stop-color="#8000ff"/><stop offset="0.158" stop-color="#8000ff"/><stop offset="0.211" stop-color="#8000ff"/><stop offset="0.263" stop-color="#8000ff"/><stop offset="0.316" stop-color="#8000ff"/><stop offset="0.368" stop-color="#8000ff"/><stop offset="0.421" stop-color="#8000ff"/><stop offset="0.474" stop-color="#8000ff"/><stop offset="0.526" stop-color="#8000ff"/><stop offset="0.579" stop-color="#8000ff"/><stop offset="0.632" stop-color="#8000ff"/><stop offset="0.684" stop-color="#8000ff"/><stop offset="0.737" stop-color="#8000ff"/><stop offset="0.789" stop-color="#8000ff"/><stop offset="0.842" stop-color="#8000ff"/><stop offset="0.895" stop-color="#8000ff"/><stop offset="0.947" stop-color="#8000ff"/><stop offset="1.000" stop-color="#8000ff"/></linearGradient>
<linearGradient id="g116" gradientUnits="userSpaceOnUse" x1="229.7" x2="388.8" y1="0" y2="0" spreadMethod="reflect"><stop offset="0.000" stop-color="#8000ff"/><stop offset="0.053" stop-color="#8000ff"/><stop offset="0.105" stop-color="#8000ff"/><stop offset="0.158" stop-color="#8000ff"/><stop offset="0.211" stop-color="#8000ff"/><stop offset="0.263" stop-color="#8000ff"/><stop offset="0.316" stop-color="#8000ff"/><stop offset="0.368" stop-color="#8000ff"/><stop offset="0.421" stop-color="#8000ff"/><stop offset="0.474" stop-color="#8000ff"/><stop offset="0.526" stop-color="#8000ff"/><stop offset="0.579" stop-color="#8000ff"/><stop offset="0.632" stop-color="#8000ff"/><stop offset="0.684" stop-color="#8000ff"/><stop offset="0.737" stop-color="#8000ff"/><stop offset="0.789" stop-color="#8000ff"/><stop offset="0.842" stop-color="#8000ff"/><stop offset="0.895" stop-color="#8000ff"/><stop offset="0.947" stop-color="#8000ff"/><stop offset="1.000" stop-color="#8000ff"/></linearGradient>
<linearGradient id="g117" gradientUnits="userSpaceOnUse" x1="229.7" x2="388.8" y1="0" y2="0" spreadMethod="reflect"><stop offset="0.000" stop-color="#8000ff"/><stop offset="0.053" stop-color="#8000ff"/><stop offset="0.105" stop-color="#8000ff"/><stop offset="0.158" stop-color="#8000ff"/><stop offset="0.211" stop-color="#8000ff"/><stop offset="0.263" stop-color="#8000ff"/><stop offset="0.316" stop-color="#8000ff"/><stop offset="0.368" stop-color="#8000ff"/><stop offset="0.421" stop-color="#8000ff"/><stop offset="0.474" stop-color="#8000ff"/><stop offset="0.526" stop-color="#8000ff"/><stop offset="0.579" stop-color="#8000ff"/><stop offset="0.632" stop-color="#8000ff"/><stop offset="0.684" stop-color="#8000ff"/><stop offset="0.737" stop-color="#8000ff"/><stop offset="0.789" stop-color="#8000ff"/><stop offset="0.842" stop-color="#8000ff"/><stop offset="0.895" stop-color="#8000ff"/><stop offset="0.947" stop-color="#8000ff"/><stop offset="1.000" stop-color="#8000ff"/></linearGradient>
<linearGradient id="g118" gradientUnits="userSpaceOnUse" x1="229.7" x2="388.8" y1="0" y2="0" spreadMethod="reflect"><stop offset="0.000" stop-color="#8000ff"/><stop offset="0.053" stop-color="#8000ff"/><stop offset="0.105" stop-color="#8000ff"/><stop offset="0.158" stop-color="#8000ff"/><stop offset="0.211" stop-color="#8000ff"/><stop offset="0.263" stop-color="#8000ff"/><stop offset="0.316" stop-color="#8000ff"/><stop offset="0.368" stop-color="#8000ff"/><stop offset="0.421" stop-color="#8000ff"/><stop offset="0.474" stop-color="#8000ff"/><stop offset="0.526" stop-color="#8000ff"/><stop offset="0.579" stop-color="#8000ff"/><stop offset="0.632" stop-color="#8000ff"/><stop offset="0.684" stop-color="#8000ff"/><stop offset="0.737" stop-color="#8000ff"/><stop offset="0.789" stop-color="#8000ff"/><stop offset="0.842" stop-color="#8000ff"/><stop offset="0.895" stop-color="#8000ff"/><stop offset="0.947" stop-color="#8000ff"/><stop offset="1.000" stop-color="#8000ff"/></linearGradient>
<linearGradient id="g119" gradientUnits="userSpaceOnUse" x1="229.7" x2="388.8" y1="0" y2="0" spreadMethod="reflect"><stop offset="0.000" stop-color="#8000ff"/><stop offset="0.053" stop-color="#8000ff"/><stop offset="0.105" stop-color="#8000ff"/><stop offset="0.158" stop-color="#8000ff"/><stop offset="0.211" stop-color="#8000ff"/><stop offset="0.263" stop-color="#8000ff"/><stop offset="0.316" stop-color="#8000ff"/><stop offset="0.368" stop-color="#8000ff"/><stop offset="0.421" stop-color="#8000ff"/><stop offset="0.474" stop-color="#8000ff"/><stop offset="0.526" stop-color="#8000ff"/><stop offset="0.579" stop-color="#8000ff"/><stop offset="0.632" stop-color="#8000ff"/><stop offset="0.684" stop-color="#8000ff"/><stop offset="0.737" stop-color="#8000ff"/><stop offset="0.789" stop-color="#8000ff"/><stop offset="0.842" stop-color="#8000ff"/><stop offset="0.895" stop-color="#8000ff"/><stop offset="0.947" stop-color="#8000ff"/><stop offset="1.000" stop-color="#8000ff"/></linearGradient>
<linearGradient id="g120" gradientUnits="userSpaceOnUse" x1="229.7" x2="388.8" y1="0" y2="0" spreadMethod="reflect"><stop offset="0.000" stop-color="#8000ff"/><stop offset="0.053" stop-color="#8000ff"/><stop offset="0.105" stop-color="#8000ff"/><stop offset="0.158" stop-color="#8000ff"/><stop offset="0.211" stop-color="#8000ff"/><stop offset="0.263" stop-color="#8000ff"/><stop offset="0.316" stop-color="#8000ff"/><stop offset="0.368" stop-color="#8000ff"/><stop offset="0.421" stop-color="#8000ff"/><stop offset="0.474" stop-color="#8000ff"/><stop offset="0.526" stop-color="#8000ff"/><stop offset="0.579" stop-color="#8000ff"/><stop offset="0.632" stop-color="#8000ff"/><stop offset="0.684" stop-color="#8000ff"/><stop offset="0.737" stop-color="#8000ff"/><stop offset="0.789" stop-color="#8000ff"/><stop offset="0.842" stop-color="#8000ff"/><stop offset="0.895" stop-color="#8000ff"/><stop offset="0.947" stop-color="#8000ff"/><stop offset="1.000" stop-color="#8000ff"/></linearGradient>
<linearGradient id="g121" gradientUnits="userSpaceOnUse" x1="229.7" x2="388.8" y1="0" y2="0" spreadMethod="reflect"><stop offset="0.000" stop-color="#8000ff"/><stop offset="0.053" stop-color="#8000ff"/><stop offset="0.105" stop-color="#8000ff"/><stop offset="0.158" stop-color="#8000ff"/><stop offset="0.211" stop-color="#8000ff"/><stop offset="0.263" stop-color="#8000ff"/><stop offset="0.316" stop-color="#8000ff"/><stop offset="0.368" stop-color="#8000ff"/><stop offset="0.421" stop-color="#8000ff"/><stop offset="0.474" stop-color="#8000ff"/><stop offset="0.526" stop-color="#8000ff"/><stop offset="0.579" stop-color="#8000ff"/><stop offset="0.632" stop-color="#8000ff"/><stop offset="0.684" stop-color="#8000ff"/><stop offset="0.737" stop-color="#8000ff"/><stop offset="0.789" stop-color="#8000ff"/><stop offset="0.842" stop-color="#8000ff"/><stop offset="0.895" stop-color="#8000ff"/><stop offset="0.947" stop-color="#8000ff"/><stop offset="1.000" stop-color="#8000ff"/></linearGradient>
<linearGradient id="g122" gradientUnits="userSpaceOnUse" x1="229.7" x2="388.8" y1="0" y2="0" spreadMethod="reflect"><stop offset="0.000" stop-color="#8000ff"/><stop offset="0.053" stop-color="#8000ff"/><stop offset="0.105" stop-color="#8000ff"/><stop offset="0.158" stop-color="#8000ff"/><stop offset="0.211" stop-color="#8000ff"/><stop offset="0.263" stop-color="#8000ff"/><stop offset="0.316" stop-color="#8000ff"/><stop offset="0.368" stop-color="#8000ff"/><stop offset="0.421" stop-color="#8000ff"/><stop offset="0.474" stop-color="#8000ff"/><stop offset="0.526" stop-color="#8000ff"/><stop offset="0.579" stop-color="#8000ff"/><stop offset="0.632" stop-color="#8000ff"/><stop offset="0.684" stop-color="#8000ff"/><stop offset="0.737" stop-color="#8000ff"/><stop offset="0.789" stop-color="#8000ff"/><stop offset="0.842" stop-color="#8000ff"/><stop offset="0.895" stop-color="#8000ff"/><stop offset="0.947" stop-color="#8000ff"/><stop offset="1.000" stop-color="#8000ff"/></linearGradient>
<linearGradient id="g123" gradientUnits="userSpaceOnUse" x1="229.7" x2="388.8" y1="0" y2="0" spreadMethod="reflect"><stop offset="0.000" stop-color="#8000ff"/><stop offset="0.053" stop-color="#8000ff"/><stop offset="0.105" stop-color="#8000ff"/><stop offset="0.158" stop-color="#8000ff"/><stop offset="0.211" stop-color="#8000ff"/><stop offset="0.263" stop-color="#8000ff"/><stop offset="0.316" stop-color="#8000ff"/><stop offset="0.368" stop-color="#8000ff"/><stop offset="0.421" stop-color="#8000ff"/><stop offset="0.474" stop-color="#8000ff"/><stop offset="0.526" stop-color="#8000ff"/><stop offset="0.579" stop-color="#8000ff"/><stop offset="0.632" stop-color="#8000ff"/><stop offset="0.684" stop-color="#8000ff"/><stop offset="0.737" stop-color="#8000ff"/><stop offset="0.789" stop-color="#8000ff"/><stop offset="0.842" stop-color="#8000ff"/><stop offset="0.895" stop-color="#8000ff"/><stop offset="0.947" stop-color="#8000ff"/><stop offset="1.000" stop-color="#8000ff"/></linearGradient>
<linearGradient id="g124" gradientUnits="userSpaceOnUse" x1="229.7" x2="388.8" y1="0" y2="0" spreadMethod="reflect"><stop offset="0.000" stop-color="#8000ff"/><stop offset="0.053" stop-color="#8000ff"/><stop offset="0.105" stop-color="#8000ff"/><stop offset="0.158" stop-color="#8000ff"/><stop offset="0.211" stop-color="#8000ff"/><stop offset="0.263" stop-color="#8000ff"/><stop offset="0.316" stop-color="#8000ff"/><stop offset="0.368" stop-color="#8000ff"/><stop offset="0.421" stop-color="#8000ff"/><stop offset="0.474" stop-color="#8000ff"/><stop offset="0.526" stop-color="#8000ff"/><stop offset="0.579" stop-color="#8000ff"/><stop offset="0.632" stop-color="#8000ff"/><stop offset="0.684" stop-color="#8000ff"/><stop offset="0.737" stop-color="#8000ff"/><stop offset="0.789" stop-color="#8000ff"/><stop offset="0.842" stop-color="#8000ff"/><stop offset="0.895" stop-color="#8000ff"/><stop offset="0.947" stop-color="#8000ff"/><stop offset="1.000" stop-color="#8000ff"/></linearGradient>
<linearGradient id="g125" gradientUnits="userSpaceOnUse" x1="229.7" x2="388.8" y1="0" y2="0" spreadMethod="reflect"><stop offset="0.000" stop-color="#8000ff"/><stop offset="0.053" stop-color="#8000ff"/><stop offset="0.105" stop-color="#8000ff"/><stop offset="0.158" stop-color="#8000ff"/><stop offset="0.211" stop-color="#8000ff"/><stop offset="0.263" stop-color="#8000ff"/><stop offset="0.316" stop-color="#8000ff"/><stop offset="0.368" stop-color="#8000ff"/><stop offset="0.421" stop-color="#8000ff"/><stop offset="0.474" stop-color="#8000ff"/><stop offset="0.526" stop-color="#8000ff"/><stop offset="0.579" stop-color="#8000ff"/><stop offset="0.632" stop-color="#8000ff"/><stop offset="0.684" stop-color="#8000ff"/><stop offset="0.737" stop-color="#8000ff"/><stop offset="0.789" stop-color="#8000ff"/><stop offset="0.842" stop-color="#8000ff"/><stop offset="0.895" stop-color="#8000ff"/><stop offset="0.947" stop-color="#8000ff"/><stop offset="1.000" stop-color="#8000ff"/></linearGradient>
<linearGradient id="g126" gradientUnits="userSpaceOnUse" x1="229.7" x2="388.8" y1="0" y2="0" spreadMethod="reflect"><stop offset="0.000" stop-color="#8000ff"/><stop offset="0.053" stop-color="#8000ff"/><stop offset="0.105" stop-color="#8000ff"/><stop offset="0.158" stop-color="#8000ff"/><stop offset="0.211" stop-color="#8000ff"/><stop offset="0.263" stop-color="#8000ff"/><stop offset="0.316" stop-color="#8000ff"/><stop offset="0.368" stop-color="#8000ff"/><stop offset="0.421" stop-color="#8000ff"/><stop offset="0.474" stop-color="#8000ff"/><stop offset="0.526" stop-color="#8000ff"/><stop offset="0.579" stop-color="#8000ff"/><stop offset="0.632" stop-color="#8000ff"/><stop offset="0.684" stop-color="#8000ff"/><stop offset="0.737" stop-color="#8000ff"/><stop offset="0.789" stop-color="#8000ff"/><stop offset="0.842" stop-color="#8000ff"/><stop offset="0.895" stop-color="#8000ff"/><stop offset="0.947" stop-color="#8000ff"/><stop offset="1.000" stop-color="#8000ff"/></linearGradient>
<linearGradient id="g127" gradientUnits="userSpaceOnUse" x1="229.7" x2="388.8" y1="0" y2="0" spreadMethod="reflect"><stop offset="0.000" stop-color="#8000ff"/><stop offset="0.053" stop-color="#8000ff"/><stop offset="0.105" stop-color="#8000ff"/><stop offset="0.158" stop-color="#8000ff"/><stop offset="0.211" stop-color="#8000ff"/><stop offset="0.263" stop-color="#8000ff"/><stop offset="0.316" stop-color="#8000ff"/><stop offset="0.368" stop-color="#8000ff"/><stop offset="0.421" stop-color="#8000ff"/><stop offset="0.474" stop-color="#8000ff"/><stop offset="0.526" stop-color="#8000ff"/><stop offset="0.579" stop-color="#8000ff"/><stop offset="0.632" stop-color="#8000ff"/><stop offset="0.684" stop-color="#8000ff"/><stop offset="0.737" stop-color="#8000ff"/><stop offset="0.789" stop-color="#8000ff"/><stop offset="0.842" stop-color="#8000ff"/><stop offset="0.895" stop-color="#8000ff"/><stop offset="0.947" stop-color="#8000ff"/><stop offset="1.000" stop-color="#8000ff"/></linearGradient>
<linearGradient id="g128" gradientUnits="userSpaceOnUse" x1="229.7" x2="388.8" y1="0" y2="0" spreadMethod="reflect"><stop offset="0.000" stop-color="#8000ff"/><stop offset="0.053" stop-color="#8000ff"/><stop offset="0.105" stop-color="#8000ff"/><stop offset="0.158" stop-color="#8000ff"/><stop offset="0.211" stop-color="#8000ff"/><stop offset="0.263" stop-color="#8000ff"/><stop offset="0.316" stop-color="#8000ff"/><stop offset="0.368" stop-color="#8000ff"/><stop offset="0.421" stop-color="#8000ff"/><stop offset="0.474" stop-color="#8000ff"/><stop offset="0.526" stop-color="#8000ff"/><stop offset="0.579" stop-color="#8000ff"/><stop offset="0.632" stop-color="#8000ff"/><stop offset="0.684" stop-color="#8000ff"/><stop offset="0.737" stop-color="#8000ff"/><stop offset="0.789" stop-color="#8000ff"/><stop offset="0.842" stop-color="#8000ff"/><stop offset="0.895" stop-color="#8000ff"/><stop offset="0.947" stop-color="#8000ff"/><stop offset="1.000" stop-color="#8000ff"/></linearGradient>
<linearGradient id="g129" gradientUnits="userSpaceOnUse" x1="229.7" x2="388.8" y1="0" y2="0" spreadMethod="reflect"><stop offset="0.000" stop-color="#8000ff"/><stop offset="0.053" stop-color="#8000ff"/><stop offset="0.105" stop-color="#8000ff"/><stop offset="0.158" stop-color="#8000ff"/><stop offset="0.211" stop-color="#8000ff"/><stop offset="0.263" stop-color="#8000ff"/><stop offset="0.316" stop-color="#8000ff"/><stop offset="0.368" stop-color="#8000ff"/><stop offset="0.421" stop-color="#8000ff"/><stop offset="0.474" stop-color="#8000ff"/><stop offset="0.526" stop-color="#8000ff"/><stop offset="0.579" stop-color="#8000ff"/><stop offset="0.632" stop-color="#8000ff"/><stop offset="0.684" stop-color="#8000ff"/><stop offset="0.737" stop-color="#8000ff"/><stop offset="0.789" stop-color="#8000ff"/><stop offset="0.842" stop-color="#8000ff"/><stop offset="0.895" stop-color="#8000ff"/><stop offset="0.947" stop-color="#8000ff"/><stop offset="1.000" stop-color="#8000ff"/></linearGradient>
<linearGradient id="g130" gradientUnits="userSpaceOnUse" x1="229.7" x2="388.8" y1="0" y2="0" spreadMethod="reflect"><stop offset="0.000" stop-color="#8000ff"/><stop offset="0.053" stop-color="#8000ff"/><stop offset="0.105" stop-color="#8000ff"/><stop offset="0.158" stop-color="#8000ff"/><stop offset="0.211" stop-color="#8000ff"/><stop offset="0.263" stop-color="#8000ff"/><stop offset="0.316" stop-color="#8000ff"/><stop offset="0.368" stop-color="#8000ff"/><stop offset="0.421" stop-color="#8000ff"/><stop offset="0.474" stop-color="#8000ff"/><stop offset="0.526" stop-color="#8000ff"/><stop offset="0.579" stop-color="#8000ff"/><stop offset="0.632" stop-color="#8000ff"/><stop offset="0.684" stop-color="#8000ff"/><stop offset="0.737" stop-color="#8000ff"/><stop offset="0.789" stop-color="#8000ff"/><stop offset="0.842" stop-color="#8000ff"/><stop offset="0.895" stop-color="#8000ff"/><stop offset="0.947" stop-color="#8000ff"/><stop offset="1.000" stop-color="#8000ff"/></linearGradient>
<linearGradient id="g131" gradientUnits="userSpaceOnUse" x1="229.7" x2="388.8" y1="0" y2="0" spreadMethod="reflect"><stop offset="0.000" stop-color="#8000ff"/><stop offset="0.053" stop-color="#8000ff"/><stop offset="0.105" stop-color="#8000ff"/><stop offset="0.158" stop-color="#8000ff"/><stop offset="0.211" stop-color="#8000ff"/><stop offset="0.263" stop-color="#8000ff"/><stop offset="0.316" stop-color="#8000ff"/><stop offset="0.368" stop-color="#8000ff"/><stop offset="0.421" stop-color="#8000ff"/><stop offset="0.474" stop-color="#8000ff"/><stop offset="0.526" stop-color="#8000ff"/><stop offset="0.579" stop-color="#8000ff"/><stop offset="0.632" stop-color="#8000ff"/><stop offset="0.684" stop-color="#8000ff"/><stop offset="0.737" stop-color="#8000ff"/><stop offset="0.789" stop-color="#8000ff"/><stop offset="0.842" stop-color="#8000ff"/><stop offset="0.895" stop-color="#8000ff"/><stop offset="0.947" stop-color="#8000ff"/><stop offset="1.000" stop-color="#8000ff"/></linearGradient>
<linearGradient id="cb" gradientUnits="userSpaceOnUse" x1="0" x2="0" y1="354.75" y2="618.9"><stop offset="0.0000" stop-color="#ff0000"/><stop offset="0.0312" stop-color="#ff160b"/><stop offset="0.0625" stop-color="#ff2f18"/><stop offset="0.0938" stop-color="#ff4724"/><stop offset="0.1250" stop-color="#ff5f30"/><stop offset="0.1562" stop-color="#ff763d"/><stop offset="0.1875" stop-color="#ff8c49"/><stop offset="0.2188" stop-color="#ffa055"/><stop offset="0.2500" stop-color="#feb562"/><stop offset="0.2812" stop-color="#f0c46c"/><stop offset="0.3125" stop-color="#e0d377"/><stop offset="0.3438" stop-color="#d0e082"/><stop offset="0.3750" stop-color="#c0eb8d"/><stop offset="0.4062" stop-color="#b0f397"/><stop offset="0.4375" stop-color="#a0faa1"/><stop offset="0.4688" stop-color="#90feab"/><stop offset="0.5000" stop-color="#80ffb4"/><stop offset="0.5312" stop-color="#70febc"/><stop offset="0.5625" stop-color="#60fac5"/><stop offset="0.5938" stop-color="#50f4cc"/><stop offset="0.6250" stop-color="#3febd5"/><stop offset="0.6562" stop-color="#30e1da"/><stop offset="0.6875" stop-color="#20d5e1"/><stop offset="0.7188" stop-color="#10c6e6"/><stop offset="0.7500" stop-color="#00b5eb"/><stop offset="0.7812" stop-color="#10a2f0"/><stop offset="0.8125" stop-color="#218cf4"/><stop offset="0.8438" stop-color="#3079f7"/><stop offset="0.8750" stop-color="#4062fa"/><stop offset="0.9062" stop-color="#5247fc"/><stop offset="0.9375" stop-color="#6032fe"/><stop offset="0.9688" stop-color="#7019ff"/><stop offset="1.0000" stop-color="#8000ff"/></linearGradient>
</defs>
<g clip-path="url(#ca)" fill="none" stroke-width="4.5" stroke-linecap="square">
<path d="M70.80 259.97 L75.22 259.98 L79.63 259.99 L84.04 260.00 L88.46 260.01 L92.88 260.02 L97.29 260.03 L101.71 260.04 L106.12 260.05 L110.53 260.06 L114.95 260.07 L119.37 260.08 L123.78 260.09 L128.19 260.09 L132.61 260.10 L137.02 260.11 L141.44 260.12 L145.86 260.12 L150.27 260.13 L154.69 260.14 L159.10 260.14 L163.51 260.15 L167.93 260.15 L172.34 260.16 L176.76 260.16 L181.18 260.17 L185.59 260.17 L190.00 260.18 L194.42 260.18 L198.84 260.18 L203.25 260.19 L207.67 260.19 L212.08 260.19 L216.50 260.19 L220.91 260.19 L225.32 260.20 L229.74 260.20 L234.15 260.20 L238.57 260.20 L242.99 260.20 L247.40 260.20 L251.81 260.20 L256.23 260.20 L260.64 260.20 L265.06 260.20 L269.47 260.20 L273.89 260.19 L278.31 260.19 L282.72 260.19 L287.13 260.19 L291.55 260.19 L295.97 260.18 L300.38 260.18 L304.80 260.18 L309.21 260.17 L313.62 260.17 L318.04 260.16 L322.45 260.16 L326.87 260.15 L331.29 260.15 L335.70 260.14 L340.12 260.14 L344.53 260.13 L348.95 260.12 L353.36 260.12 L357.77 260.11 L362.19 260.10 L366.61 260.09 L371.02 260.09 L375.44 260.08 L379.85 260.07 L384.27 260.06 L388.68 260.05 L393.10 260.04 L397.51 260.03 L401.93 260.02 L406.34 260.01 L410.75 260.00 L415.17 259.99 L419.59 259.98 L424.00 259.97" stroke="#ff9800"/>
<path d="M70.80 230.61 L75.22 232.07 L79.63 233.49 L84.04 234.88 L88.46 236.23 L92.88 237.54 L97.29 238.82 L101.71 240.06 L106.12 241.26 L110.53 242.43 L114.95 243.56 L119.37 244.65 L123.78 245.70 L128.19 246.72 L132.61 247.70 L137.02 248.64 L141.44 249.55 L145.86 250.42 L150.27 251.25 L154.69 252.04 L159.10 252.80 L163.51 253.52 L167.93 254.21 L172.34 254.86 L176.76 255.47 L181.18 256.04 L185.59 256.58 L190.00 257.07 L194.42 257.54 L198.84 257.96 L203.25 258.35 L207.67 258.70 L212.08 259.02 L216.50 259.29 L220.91 259.53 L225.32 259.74 L229.74 259.90 L234.15 260.03 L238.57 260.13 L242.99 260.18 L247.40 260.20 L251.81 260.18 L256.23 260.13 L260.64 260.03 L265.06 259.90 L269.47 259.74 L273.89 259.53 L278.31 259.29 L282.72 259.02 L287.13 258.70 L291.55 258.35 L295.97 257.96 L300.38 257.54 L304.80 257.07 L309.21 256.58 L313.62 256.04 L318.04 255.47 L322.45 254.86 L326.87 254.21 L331.29 253.52 L335.70 252.80 L340.12 252.04 L344.53 251.25 L348.95 250.42 L353.36 249.55 L357.77 248.64 L362.19 247.70 L366.61 246.72 L371.02 245.70 L375.44 244.65 L379.85 243.56 L384.27 242.43 L388.68 241.26 L393.10 240.06 L397.51 238.82 L401.93 237.54 L406.34 236.23 L410.75 234.88 L415.17 233.49 L419.59 232.07 L424.00 230.61" stroke="#ff00ff"/>
<path d="M70.80 164.11 L75.22 168.85 L79.63 173.48 L84.04 177.98 L88.46 182.37 L92.88 186.63 L97.29 190.77 L101.71 194.80 L106.12 198.70 L110.53 202.48 L114.95 206.15 L119.37 209.69 L123.78 213.12 L128.19 216.42 L132.61 219.60 L137.02 222.66 L141.44 225.61 L145.86 228.43 L150.27 231.13 L154.69 233.71 L159.10 236.18 L163.51 238.52 L167.93 240.74 L172.34 242.84 L176.76 244.83 L181.18 246.69 L185.59 248.43 L190.00 250.05 L194.42 251.55 L198.84 252.93 L203.25 254.19 L207.67 255.34 L212.08 256.36 L216.50 257.26 L220.91 258.04 L225.32 258.70 L229.74 259.24 L234.15 259.66 L238.57 259.96 L242.99 260.14 L247.40 260.20 L251.81 260.14 L256.23 259.96 L260.64 259.66 L265.06 259.24 L269.47 258.70 L273.89 258.04 L278.31 257.26 L282.72 256.36 L287.13 255.34 L291.55 254.19 L295.97 252.93 L300.38 251.55 L304.80 250.05 L309.21 248.43 L313.62 246.69 L318.04 244.83 L322.45 242.84 L326.87 240.74 L331.29 238.52 L335.70 236.18 L340.12 233.71 L344.53 231.13 L348.95 228.43 L353.36 225.61 L357.77 222.66 L362.19 219.60 L366.61 216.42 L371.02 213.12 L375.44 209.69 L379.85 206.15 L384.27 202.48 L388.68 198.70 L393.10 194.80 L397.51 190.77 L401.93 186.63 L406.34 182.37 L410.75 177.98 L415.17 173.48 L419.59 168.85 L424.00 164.11" stroke="#74c5e9"/>
<path d="M70.80 90.05 L75.22 98.46 L79.63 106.64 L84.04 114.62 L88.46 122.38 L92.88 129.93 L97.29 137.27 L101.71 144.39 L106.12 151.31 L110.53 158.01 L114.95 164.49 L119.37 170.77 L123.78 176.83 L128.19 182.68 L132.61 188.31 L137.02 193.74 L141.44 198.95 L145.86 203.95 L150.27 208.73 L154.69 213.30 L159.10 217.66 L163.51 221.81 L167.93 225.75 L172.34 229.47 L176.76 232.98 L181.18 236.27 L185.59 239.36 L190.00 242.23 L194.42 244.89 L198.84 247.33 L203.25 249.57 L207.67 251.59 L212.08 253.39 L216.50 254.99 L220.91 256.37 L225.32 257.54 L229.74 258.50 L234.15 259.24 L238.57 259.77 L242.99 260.09 L247.40 260.20 L251.81 260.09 L256.23 259.77 L260.64 259.24 L265.06 258.50 L269.47 257.54 L273.89 256.37 L278.31 254.99 L282.72 253.39 L287.13 251.59 L291.55 249.57 L295.97 247.33 L300.38 244.89 L304.80 242.23 L309.21 239.36 L313.62 236.27 L318.04 232.98 L322.45 229.47 L326.87 225.75 L331.29 221.81 L335.70 217.66 L340.12 213.30 L344.53 208.73 L348.95 203.95 L353.36 198.95 L357.77 193.74 L362.19 188.31 L366.61 182.68 L371.02 176.83 L375.44 170.77 L379.85 164.49 L384.27 158.01 L388.68 151.31 L393.10 144.39 L397.51 137.27 L401.93 129.93 L406.34 122.38 L410.75 114.62 L415.17 106.64 L419.59 98.46 L424.00 90.05" stroke="#0000ff"/>
<path d="M70.80 19.97 L75.22 31.83 L79.63 43.39 L84.04 54.65 L88.46 65.61 L92.88 76.27 L97.29 86.63 L101.71 96.69 L106.12 106.45 L110.53 115.91 L114.95 125.07 L119.37 133.93 L123.78 142.49 L128.19 150.75 L132.61 158.70 L137.02 166.36 L141.44 173.72 L145.86 180.77 L150.27 187.53 L154.69 193.99 L159.10 200.14 L163.51 206.00 L167.93 211.55 L172.34 216.81 L176.76 221.76 L181.18 226.42 L185.59 230.77 L190.00 234.83 L194.42 238.58 L198.84 242.03 L203.25 245.19 L207.67 248.04 L212.08 250.59 L216.50 252.84 L220.91 254.79 L225.32 256.45 L229.74 257.80 L234.15 258.85 L238.57 259.60 L242.99 260.05 L247.40 260.20 L251.81 260.05 L256.23 259.60 L260.64 258.85 L265.06 257.80 L269.47 256.45 L273.89 254.79 L278.31 252.84 L282.72 250.59 L287.13 248.04 L291.55 245.19 L295.97 242.03 L300.38 238.58 L304.80 234.83 L309.21 230.77 L313.62 226.42 L318.04 221.76 L322.45 216.81 L326.87 211.55 L331.29 206.00 L335.70 200.14 L340.12 193.99 L344.53 187.53 L348.95 180.77 L353.36 173.72 L357.77 166.36 L362.19 158.70 L366.61 150.75 L371.02 142.49 L375.44 133.93 L379.85 125.07 L384.27 115.91 L388.68 106.45 L393.10 96.69 L397.51 86.63 L401.93 76.27 L406.34 65.61 L410.75 54.65 L415.17 43.39 L419.59 31.83 L424.00 19.97" stroke="#ff0000"/>
</g>
<g stroke="#1c1c1c" stroke-width="1" fill="none">
<path d="M70.80 272.40 v3.7"/>
<path d="M159.10 272.40 v3.7"/>
<path d="M247.40 272.40 v3.7"/>
<path d="M335.70 272.40 v3.7"/>
<path d="M424.00 272.40 v3.7"/>
<path d="M70.80 260.20 h-3.7"/>
<path d="M70.80 221.26 h-3.7"/>
<path d="M70.80 182.33 h-3.7"/>
<path d="M70.80 143.39 h-3.7"/>
<path d="M70.80 104.46 h-3.7"/>
<path d="M70.80 65.52 h-3.7"/>
<path d="M70.80 26.59 h-3.7"/>
<rect x="70.8" y="8" width="353.2" height="264.4"/>
</g>
<text transform="translate(70.40 290.30) scale(0.99 1)" font-size="14.4" text-anchor="middle">−1.0</text>
<text transform="translate(158.70 290.30) scale(0.99 1)" font-size="14.4" text-anchor="middle">−0.5</text>
<text transform="translate(247.00 290.30) scale(0.99 1)" font-size="14.4" text-anchor="middle">0.0</text>
<text transform="translate(335.30 290.30) scale(0.99 1)" font-size="14.4" text-anchor="middle">0.5</text>
<text transform="translate(423.60 290.30) scale(0.99 1)" font-size="14.4" text-anchor="middle">1.0</text>
<text transform="translate(63.70 265.65) scale(0.99 1)" font-size="14.4" text-anchor="end">0.0</text>
<text transform="translate(63.70 226.71) scale(0.99 1)" font-size="14.4" text-anchor="end">0.5</text>
<text transform="translate(63.70 187.78) scale(0.99 1)" font-size="14.4" text-anchor="end">1.0</text>
<text transform="translate(63.70 148.84) scale(0.99 1)" font-size="14.4" text-anchor="end">1.5</text>
<text transform="translate(63.70 109.91) scale(0.99 1)" font-size="14.4" text-anchor="end">2.0</text>
<text transform="translate(63.70 70.97) scale(0.99 1)" font-size="14.4" text-anchor="end">2.5</text>
<text transform="translate(63.70 32.04) scale(0.99 1)" font-size="14.4" text-anchor="end">3.0</text>
<text transform="translate(31.30 140.20) rotate(-90)" font-size="19.25" xml:space="preserve"><tspan x="-63.40" y="-0.00" class="it">j</tspan><tspan x="-58.05" y="3.16" class="it" font-size="13.47">s </tspan><tspan x="-44.38" y="-0.00">(10</tspan><tspan x="-12.20" y="-7.37" font-size="13.47">7</tspan><tspan x="-3.10" y="-0.00" class="it">A</tspan><tspan x="10.07" y="-0.00">/</tspan><tspan x="16.56" y="-0.00" class="it">cm</tspan><tspan x="46.79" y="-7.37" font-size="13.47">2</tspan><tspan x="55.89" y="-0.00">)</tspan></text>
<text transform="translate(247.20 313.00)" font-size="19.25" xml:space="preserve"><tspan x="-35.22" y="-0.00">(10</tspan><tspan x="-3.03" y="-7.37" font-size="13.47">6</tspan><tspan x="6.07" y="-0.00" class="it">V</tspan><tspan x="19.24" y="-0.00">/</tspan><tspan x="25.72" y="-0.00" class="it">m</tspan><tspan x="44.47" y="-0.00">)</tspan></text>
<text transform="translate(194.00 313.20) skewX(-13)" font-size="17.32">ℰ</text>
<text class="pn" font-size="25.2" y="24.2" stroke="#000" stroke-width="0.3"><tspan x="0.4">(</tspan><tspan x="8.9" font-size="22.8" dy="-0.1">a</tspan><tspan x="22.2" dy="0.1">)</tspan></text>
<rect x="210.3" y="12.6" width="74" height="72.2" rx="2.5" fill="#fff" fill-opacity="0.8" stroke="#d2d2d2" stroke-width="1.0"/>
<path d="M211.7 20.30 H235.8" stroke="#ff9800" stroke-width="4.5"/>
<text transform="translate(240.70 23.70)" font-size="9.70" xml:space="preserve"><tspan x="0.00" y="-0.00" class="it">T</tspan><tspan x="7.81" y="-0.00">=</tspan><tspan x="17.83" y="-0.00">1.5K</tspan></text>
<path d="M211.7 34.37 H235.8" stroke="#ff00ff" stroke-width="4.5"/>
<text transform="translate(240.70 37.77)" font-size="9.70" xml:space="preserve"><tspan x="0.00" y="-0.00" class="it">T</tspan><tspan x="7.81" y="-0.00">=</tspan><tspan x="17.83" y="-0.00">3.0K</tspan></text>
<path d="M211.7 48.44 H235.8" stroke="#74c5e9" stroke-width="4.5"/>
<text transform="translate(240.70 51.84)" font-size="9.70" xml:space="preserve"><tspan x="0.00" y="-0.00" class="it">T</tspan><tspan x="7.81" y="-0.00">=</tspan><tspan x="17.83" y="-0.00">4.5K</tspan></text>
<path d="M211.7 62.51 H235.8" stroke="#0000ff" stroke-width="4.5"/>
<text transform="translate(240.70 65.91)" font-size="9.70" xml:space="preserve"><tspan x="0.00" y="-0.00" class="it">T</tspan><tspan x="7.81" y="-0.00">=</tspan><tspan x="17.83" y="-0.00">6.0K</tspan></text>
<path d="M211.7 76.58 H235.8" stroke="#ff0000" stroke-width="4.5"/>
<text transform="translate(240.70 79.98)" font-size="9.70" xml:space="preserve"><tspan x="0.00" y="-0.00" class="it">T</tspan><tspan x="7.81" y="-0.00">=</tspan><tspan x="17.83" y="-0.00">7.5K</tspan></text>
<rect x="70.6" y="354.75" width="318.2" height="2.50" fill="url(#g0)"/>
<rect x="70.6" y="356.75" width="318.2" height="2.50" fill="url(#g1)"/>
<rect x="70.6" y="358.75" width="318.2" height="2.50" fill="url(#g2)"/>
<rect x="70.6" y="360.75" width="318.2" height="2.50" fill="url(#g3)"/>
<rect x="70.6" y="362.75" width="318.2" height="2.50" fill="url(#g4)"/>
<rect x="70.6" y="364.76" width="318.2" height="2.50" fill="url(#g5)"/>
<rect x="70.6" y="366.76" width="318.2" height="2.50" fill="url(#g6)"/>
<rect x="70.6" y="368.76" width="318.2" height="2.50" fill="url(#g7)"/>
<rect x="70.6" y="370.76" width="318.2" height="2.50" fill="url(#g8)"/>
<rect x="70.6" y="372.76" width="318.2" height="2.50" fill="url(#g9)"/>
<rect x="70.6" y="374.76" width="318.2" height="2.50" fill="url(#g10)"/>
<rect x="70.6" y="376.76" width="318.2" height="2.50" fill="url(#g11)"/>
<rect x="70.6" y="378.76" width="318.2" height="2.50" fill="url(#g12)"/>
<rect x="70.6" y="380.76" width="318.2" height="2.50" fill="url(#g13)"/>
<rect x="70.6" y="382.77" width="318.2" height="2.50" fill="url(#g14)"/>
<rect x="70.6" y="384.77" width="318.2" height="2.50" fill="url(#g15)"/>
<rect x="70.6" y="386.77" width="318.2" height="2.50" fill="url(#g16)"/>
<rect x="70.6" y="388.77" width="318.2" height="2.50" fill="url(#g17)"/>
<rect x="70.6" y="390.77" width="318.2" height="2.50" fill="url(#g18)"/>
<rect x="70.6" y="392.77" width="318.2" height="2.50" fill="url(#g19)"/>
<rect x="70.6" y="394.77" width="318.2" height="2.50" fill="url(#g20)"/>
<rect x="70.6" y="396.77" width="318.2" height="2.50" fill="url(#g21)"/>
<rect x="70.6" y="398.77" width="318.2" height="2.50" fill="url(#g22)"/>
<rect x="70.6" y="400.78" width="318.2" height="2.50" fill="url(#g23)"/>
<rect x="70.6" y="402.78" width="318.2" height="2.50" fill="url(#g24)"/>
<rect x="70.6" y="404.78" width="318.2" height="2.50" fill="url(#g25)"/>
<rect x="70.6" y="406.78" width="318.2" height="2.50" fill="url(#g26)"/>
<rect x="70.6" y="408.78" width="318.2" height="2.50" fill="url(#g27)"/>
<rect x="70.6" y="410.78" width="318.2" height="2.50" fill="url(#g28)"/>
<rect x="70.6" y="412.78" width="318.2" height="2.50" fill="url(#g29)"/>
<rect x="70.6" y="414.78" width="318.2" height="2.50" fill="url(#g30)"/>
<rect x="70.6" y="416.79" width="318.2" height="2.50" fill="url(#g31)"/>
<rect x="70.6" y="418.79" width="318.2" height="2.50" fill="url(#g32)"/>
<rect x="70.6" y="420.79" width="318.2" height="2.50" fill="url(#g33)"/>
<rect x="70.6" y="422.79" width="318.2" height="2.50" fill="url(#g34)"/>
<rect x="70.6" y="424.79" width="318.2" height="2.50" fill="url(#g35)"/>
<rect x="70.6" y="426.79" width="318.2" height="2.50" fill="url(#g36)"/>
<rect x="70.6" y="428.79" width="318.2" height="2.50" fill="url(#g37)"/>
<rect x="70.6" y="430.79" width="318.2" height="2.50" fill="url(#g38)"/>
<rect x="70.6" y="432.79" width="318.2" height="2.50" fill="url(#g39)"/>
<rect x="70.6" y="434.80" width="318.2" height="2.50" fill="url(#g40)"/>
<rect x="70.6" y="436.80" width="318.2" height="2.50" fill="url(#g41)"/>
<rect x="70.6" y="438.80" width="318.2" height="2.50" fill="url(#g42)"/>
<rect x="70.6" y="440.80" width="318.2" height="2.50" fill="url(#g43)"/>
<rect x="70.6" y="442.80" width="318.2" height="2.50" fill="url(#g44)"/>
<rect x="70.6" y="444.80" width="318.2" height="2.50" fill="url(#g45)"/>
<rect x="70.6" y="446.80" width="318.2" height="2.50" fill="url(#g46)"/>
<rect x="70.6" y="448.80" width="318.2" height="2.50" fill="url(#g47)"/>
<rect x="70.6" y="450.80" width="318.2" height="2.50" fill="url(#g48)"/>
<rect x="70.6" y="452.81" width="318.2" height="2.50" fill="url(#g49)"/>
<rect x="70.6" y="454.81" width="318.2" height="2.50" fill="url(#g50)"/>
<rect x="70.6" y="456.81" width="318.2" height="2.50" fill="url(#g51)"/>
<rect x="70.6" y="458.81" width="318.2" height="2.50" fill="url(#g52)"/>
<rect x="70.6" y="460.81" width="318.2" height="2.50" fill="url(#g53)"/>
<rect x="70.6" y="462.81" width="318.2" height="2.50" fill="url(#g54)"/>
<rect x="70.6" y="464.81" width="318.2" height="2.50" fill="url(#g55)"/>
<rect x="70.6" y="466.81" width="318.2" height="2.50" fill="url(#g56)"/>
<rect x="70.6" y="468.81" width="318.2" height="2.50" fill="url(#g57)"/>
<rect x="70.6" y="470.82" width="318.2" height="2.50" fill="url(#g58)"/>
<rect x="70.6" y="472.82" width="318.2" height="2.50" fill="url(#g59)"/>
<rect x="70.6" y="474.82" width="318.2" height="2.50" fill="url(#g60)"/>
<rect x="70.6" y="476.82" width="318.2" height="2.50" fill="url(#g61)"/>
<rect x="70.6" y="478.82" width="318.2" height="2.50" fill="url(#g62)"/>
<rect x="70.6" y="480.82" width="318.2" height="2.50" fill="url(#g63)"/>
<rect x="70.6" y="482.82" width="318.2" height="2.50" fill="url(#g64)"/>
<rect x="70.6" y="484.82" width="318.2" height="2.50" fill="url(#g65)"/>
<rect x="70.6" y="486.82" width="318.2" height="2.50" fill="url(#g66)"/>
<rect x="70.6" y="488.83" width="318.2" height="2.50" fill="url(#g67)"/>
<rect x="70.6" y="490.83" width="318.2" height="2.50" fill="url(#g68)"/>
<rect x="70.6" y="492.83" width="318.2" height="2.50" fill="url(#g69)"/>
<rect x="70.6" y="494.83" width="318.2" height="2.50" fill="url(#g70)"/>
<rect x="70.6" y="496.83" width="318.2" height="2.50" fill="url(#g71)"/>
<rect x="70.6" y="498.83" width="318.2" height="2.50" fill="url(#g72)"/>
<rect x="70.6" y="500.83" width="318.2" height="2.50" fill="url(#g73)"/>
<rect x="70.6" y="502.83" width="318.2" height="2.50" fill="url(#g74)"/>
<rect x="70.6" y="504.84" width="318.2" height="2.50" fill="url(#g75)"/>
<rect x="70.6" y="506.84" width="318.2" height="2.50" fill="url(#g76)"/>
<rect x="70.6" y="508.84" width="318.2" height="2.50" fill="url(#g77)"/>
<rect x="70.6" y="510.84" width="318.2" height="2.50" fill="url(#g78)"/>
<rect x="70.6" y="512.84" width="318.2" height="2.50" fill="url(#g79)"/>
<rect x="70.6" y="514.84" width="318.2" height="2.50" fill="url(#g80)"/>
<rect x="70.6" y="516.84" width="318.2" height="2.50" fill="url(#g81)"/>
<rect x="70.6" y="518.84" width="318.2" height="2.50" fill="url(#g82)"/>
<rect x="70.6" y="520.84" width="318.2" height="2.50" fill="url(#g83)"/>
<rect x="70.6" y="522.85" width="318.2" height="2.50" fill="url(#g84)"/>
<rect x="70.6" y="524.85" width="318.2" height="2.50" fill="url(#g85)"/>
<rect x="70.6" y="526.85" width="318.2" height="2.50" fill="url(#g86)"/>
<rect x="70.6" y="528.85" width="318.2" height="2.50" fill="url(#g87)"/>
<rect x="70.6" y="530.85" width="318.2" height="2.50" fill="url(#g88)"/>
<rect x="70.6" y="532.85" width="318.2" height="2.50" fill="url(#g89)"/>
<rect x="70.6" y="534.85" width="318.2" height="2.50" fill="url(#g90)"/>
<rect x="70.6" y="536.85" width="318.2" height="2.50" fill="url(#g91)"/>
<rect x="70.6" y="538.85" width="318.2" height="2.50" fill="url(#g92)"/>
<rect x="70.6" y="540.86" width="318.2" height="2.50" fill="url(#g93)"/>
<rect x="70.6" y="542.86" width="318.2" height="2.50" fill="url(#g94)"/>
<rect x="70.6" y="544.86" width="318.2" height="2.50" fill="url(#g95)"/>
<rect x="70.6" y="546.86" width="318.2" height="2.50" fill="url(#g96)"/>
<rect x="70.6" y="548.86" width="318.2" height="2.50" fill="url(#g97)"/>
<rect x="70.6" y="550.86" width="318.2" height="2.50" fill="url(#g98)"/>
<rect x="70.6" y="552.86" width="318.2" height="2.50" fill="url(#g99)"/>
<rect x="70.6" y="554.86" width="318.2" height="2.50" fill="url(#g100)"/>
<rect x="70.6" y="556.86" width="318.2" height="2.50" fill="url(#g101)"/>
<rect x="70.6" y="558.87" width="318.2" height="2.50" fill="url(#g102)"/>
<rect x="70.6" y="560.87" width="318.2" height="2.50" fill="url(#g103)"/>
<rect x="70.6" y="562.87" width="318.2" height="2.50" fill="url(#g104)"/>
<rect x="70.6" y="564.87" width="318.2" height="2.50" fill="url(#g105)"/>
<rect x="70.6" y="566.87" width="318.2" height="2.50" fill="url(#g106)"/>
<rect x="70.6" y="568.87" width="318.2" height="2.50" fill="url(#g107)"/>
<rect x="70.6" y="570.87" width="318.2" height="2.50" fill="url(#g108)"/>
<rect x="70.6" y="572.87" width="318.2" height="2.50" fill="url(#g109)"/>
<rect x="70.6" y="574.88" width="318.2" height="2.50" fill="url(#g110)"/>
<rect x="70.6" y="576.88" width="318.2" height="2.50" fill="url(#g111)"/>
<rect x="70.6" y="578.88" width="318.2" height="2.50" fill="url(#g112)"/>
<rect x="70.6" y="580.88" width="318.2" height="2.50" fill="url(#g113)"/>
<rect x="70.6" y="582.88" width="318.2" height="2.50" fill="url(#g114)"/>
<rect x="70.6" y="584.88" width="318.2" height="2.50" fill="url(#g115)"/>
<rect x="70.6" y="586.88" width="318.2" height="2.50" fill="url(#g116)"/>
<rect x="70.6" y="588.88" width="318.2" height="2.50" fill="url(#g117)"/>
<rect x="70.6" y="590.88" width="318.2" height="2.50" fill="url(#g118)"/>
<rect x="70.6" y="592.89" width="318.2" height="2.50" fill="url(#g119)"/>
<rect x="70.6" y="594.89" width="318.2" height="2.50" fill="url(#g120)"/>
<rect x="70.6" y="596.89" width="318.2" height="2.50" fill="url(#g121)"/>
<rect x="70.6" y="598.89" width="318.2" height="2.50" fill="url(#g122)"/>
<rect x="70.6" y="600.89" width="318.2" height="2.50" fill="url(#g123)"/>
<rect x="70.6" y="602.89" width="318.2" height="2.50" fill="url(#g124)"/>
<rect x="70.6" y="604.89" width="318.2" height="2.50" fill="url(#g125)"/>
<rect x="70.6" y="606.89" width="318.2" height="2.50" fill="url(#g126)"/>
<rect x="70.6" y="608.89" width="318.2" height="2.50" fill="url(#g127)"/>
<rect x="70.6" y="610.90" width="318.2" height="2.50" fill="url(#g128)"/>
<rect x="70.6" y="612.90" width="318.2" height="2.50" fill="url(#g129)"/>
<rect x="70.6" y="614.90" width="318.2" height="2.50" fill="url(#g130)"/>
<rect x="70.6" y="616.90" width="318.2" height="2.50" fill="url(#g131)"/>
<g stroke="#1c1c1c" stroke-width="1" fill="none">
<path d="M70.60 618.90 v3.7"/>
<path d="M150.15 618.90 v3.7"/>
<path d="M229.70 618.90 v3.7"/>
<path d="M309.25 618.90 v3.7"/>
<path d="M388.80 618.90 v3.7"/>
<path d="M70.60 618.90 h-3.7"/>
<path d="M70.60 566.07 h-3.7"/>
<path d="M70.60 513.24 h-3.7"/>
<path d="M70.60 460.41 h-3.7"/>
<path d="M70.60 407.58 h-3.7"/>
<path d="M70.60 354.75 h-3.7"/>
<rect x="70.6" y="354.75" width="318.2" height="264.15"/>
</g>
<text transform="translate(70.60 637.90) scale(0.985 1)" font-size="16" text-anchor="middle">−1.0</text>
<text transform="translate(150.15 637.90) scale(0.985 1)" font-size="16" text-anchor="middle">−0.5</text>
<text transform="translate(229.70 637.90) scale(0.985 1)" font-size="16" text-anchor="middle">0.0</text>
<text transform="translate(309.25 637.90) scale(0.985 1)" font-size="16" text-anchor="middle">0.5</text>
<text transform="translate(388.80 637.90) scale(0.985 1)" font-size="16" text-anchor="middle">1.0</text>
<text transform="translate(63.40 625.20) scale(0.985 1)" font-size="16" text-anchor="end">0.0</text>
<text transform="translate(63.40 572.37) scale(0.985 1)" font-size="16" text-anchor="end">0.2</text>
<text transform="translate(63.40 519.54) scale(0.985 1)" font-size="16" text-anchor="end">0.4</text>
<text transform="translate(63.40 466.71) scale(0.985 1)" font-size="16" text-anchor="end">0.6</text>
<text transform="translate(63.40 413.88) scale(0.985 1)" font-size="16" text-anchor="end">0.8</text>
<text transform="translate(63.40 361.05) scale(0.985 1)" font-size="16" text-anchor="end">1.0</text>
<text transform="translate(229.00 662.70)" font-size="21.00" xml:space="preserve"><tspan x="-38.42" y="-0.00">(10</tspan><tspan x="-3.31" y="-8.04" font-size="14.70">6</tspan><tspan x="6.62" y="-0.00" class="it">V</tspan><tspan x="20.99" y="-0.00">/</tspan><tspan x="28.06" y="-0.00" class="it">m</tspan><tspan x="48.52" y="-0.00">)</tspan></text>
<text transform="translate(171.30 662.60) skewX(-13)" font-size="18.90">ℰ</text>
<text transform="translate(29.80 487.72) rotate(-90)" font-size="20.70" xml:space="preserve"><tspan x="-20.11" y="-0.00" class="it">T</tspan><tspan x="-7.47" y="-0.00">/</tspan><tspan x="-0.50" y="-0.00" class="it">T</tspan><tspan x="12.15" y="3.40" class="it" font-size="14.49">c</tspan></text>
<text class="pn" font-size="24" y="355.9" stroke="#000" stroke-width="0.3"><tspan x="0.0">(</tspan><tspan x="9.0" font-size="23.2" dy="-0.3">b</tspan><tspan x="22.9" dy="0.3">)</tspan></text>
<rect x="407.9" y="354.75" width="13.9" height="264.15" fill="url(#cb)"/>
<g stroke="#1c1c1c" stroke-width="1" fill="none">
<path d="M421.80 618.90 h3.6"/>
<path d="M421.80 576.13 h3.6"/>
<path d="M421.80 533.36 h3.6"/>
<path d="M421.80 490.59 h3.6"/>
<path d="M421.80 447.82 h3.6"/>
<path d="M421.80 405.05 h3.6"/>
<path d="M421.80 362.28 h3.6"/>
<rect x="407.9" y="354.75" width="13.9" height="264.15"/>
</g>
<text transform="translate(428.90 623.10) scale(1.06 1)" font-size="9.7" text-anchor="start">0.0</text>
<text transform="translate(428.90 580.33) scale(1.06 1)" font-size="9.7" text-anchor="start">0.5</text>
<text transform="translate(428.90 537.56) scale(1.06 1)" font-size="9.7" text-anchor="start">1.0</text>
<text transform="translate(428.90 494.79) scale(1.06 1)" font-size="9.7" text-anchor="start">1.5</text>
<text transform="translate(428.90 452.02) scale(1.06 1)" font-size="9.7" text-anchor="start">2.0</text>
<text transform="translate(428.90 409.25) scale(1.06 1)" font-size="9.7" text-anchor="start">2.5</text>
<text transform="translate(428.90 366.48) scale(1.06 1)" font-size="9.7" text-anchor="start">3.0</text>
<text transform="translate(351.00 347.50)" font-size="20.95" xml:space="preserve"><tspan x="0.00" y="-0.00" class="it">j</tspan><tspan x="5.82" y="3.44" class="it" font-size="14.66">s </tspan><tspan x="20.69" y="-0.00">(10</tspan><tspan x="55.73" y="-8.02" font-size="14.66">7</tspan><tspan x="65.63" y="-0.00" class="it">A</tspan><tspan x="79.96" y="-0.00">/</tspan><tspan x="87.02" y="-0.00" class="it">cm</tspan><tspan x="119.92" y="-8.02" font-size="14.66">2</tspan><tspan x="129.82" y="-0.00">)</tspan></text>
</svg></body></html>
